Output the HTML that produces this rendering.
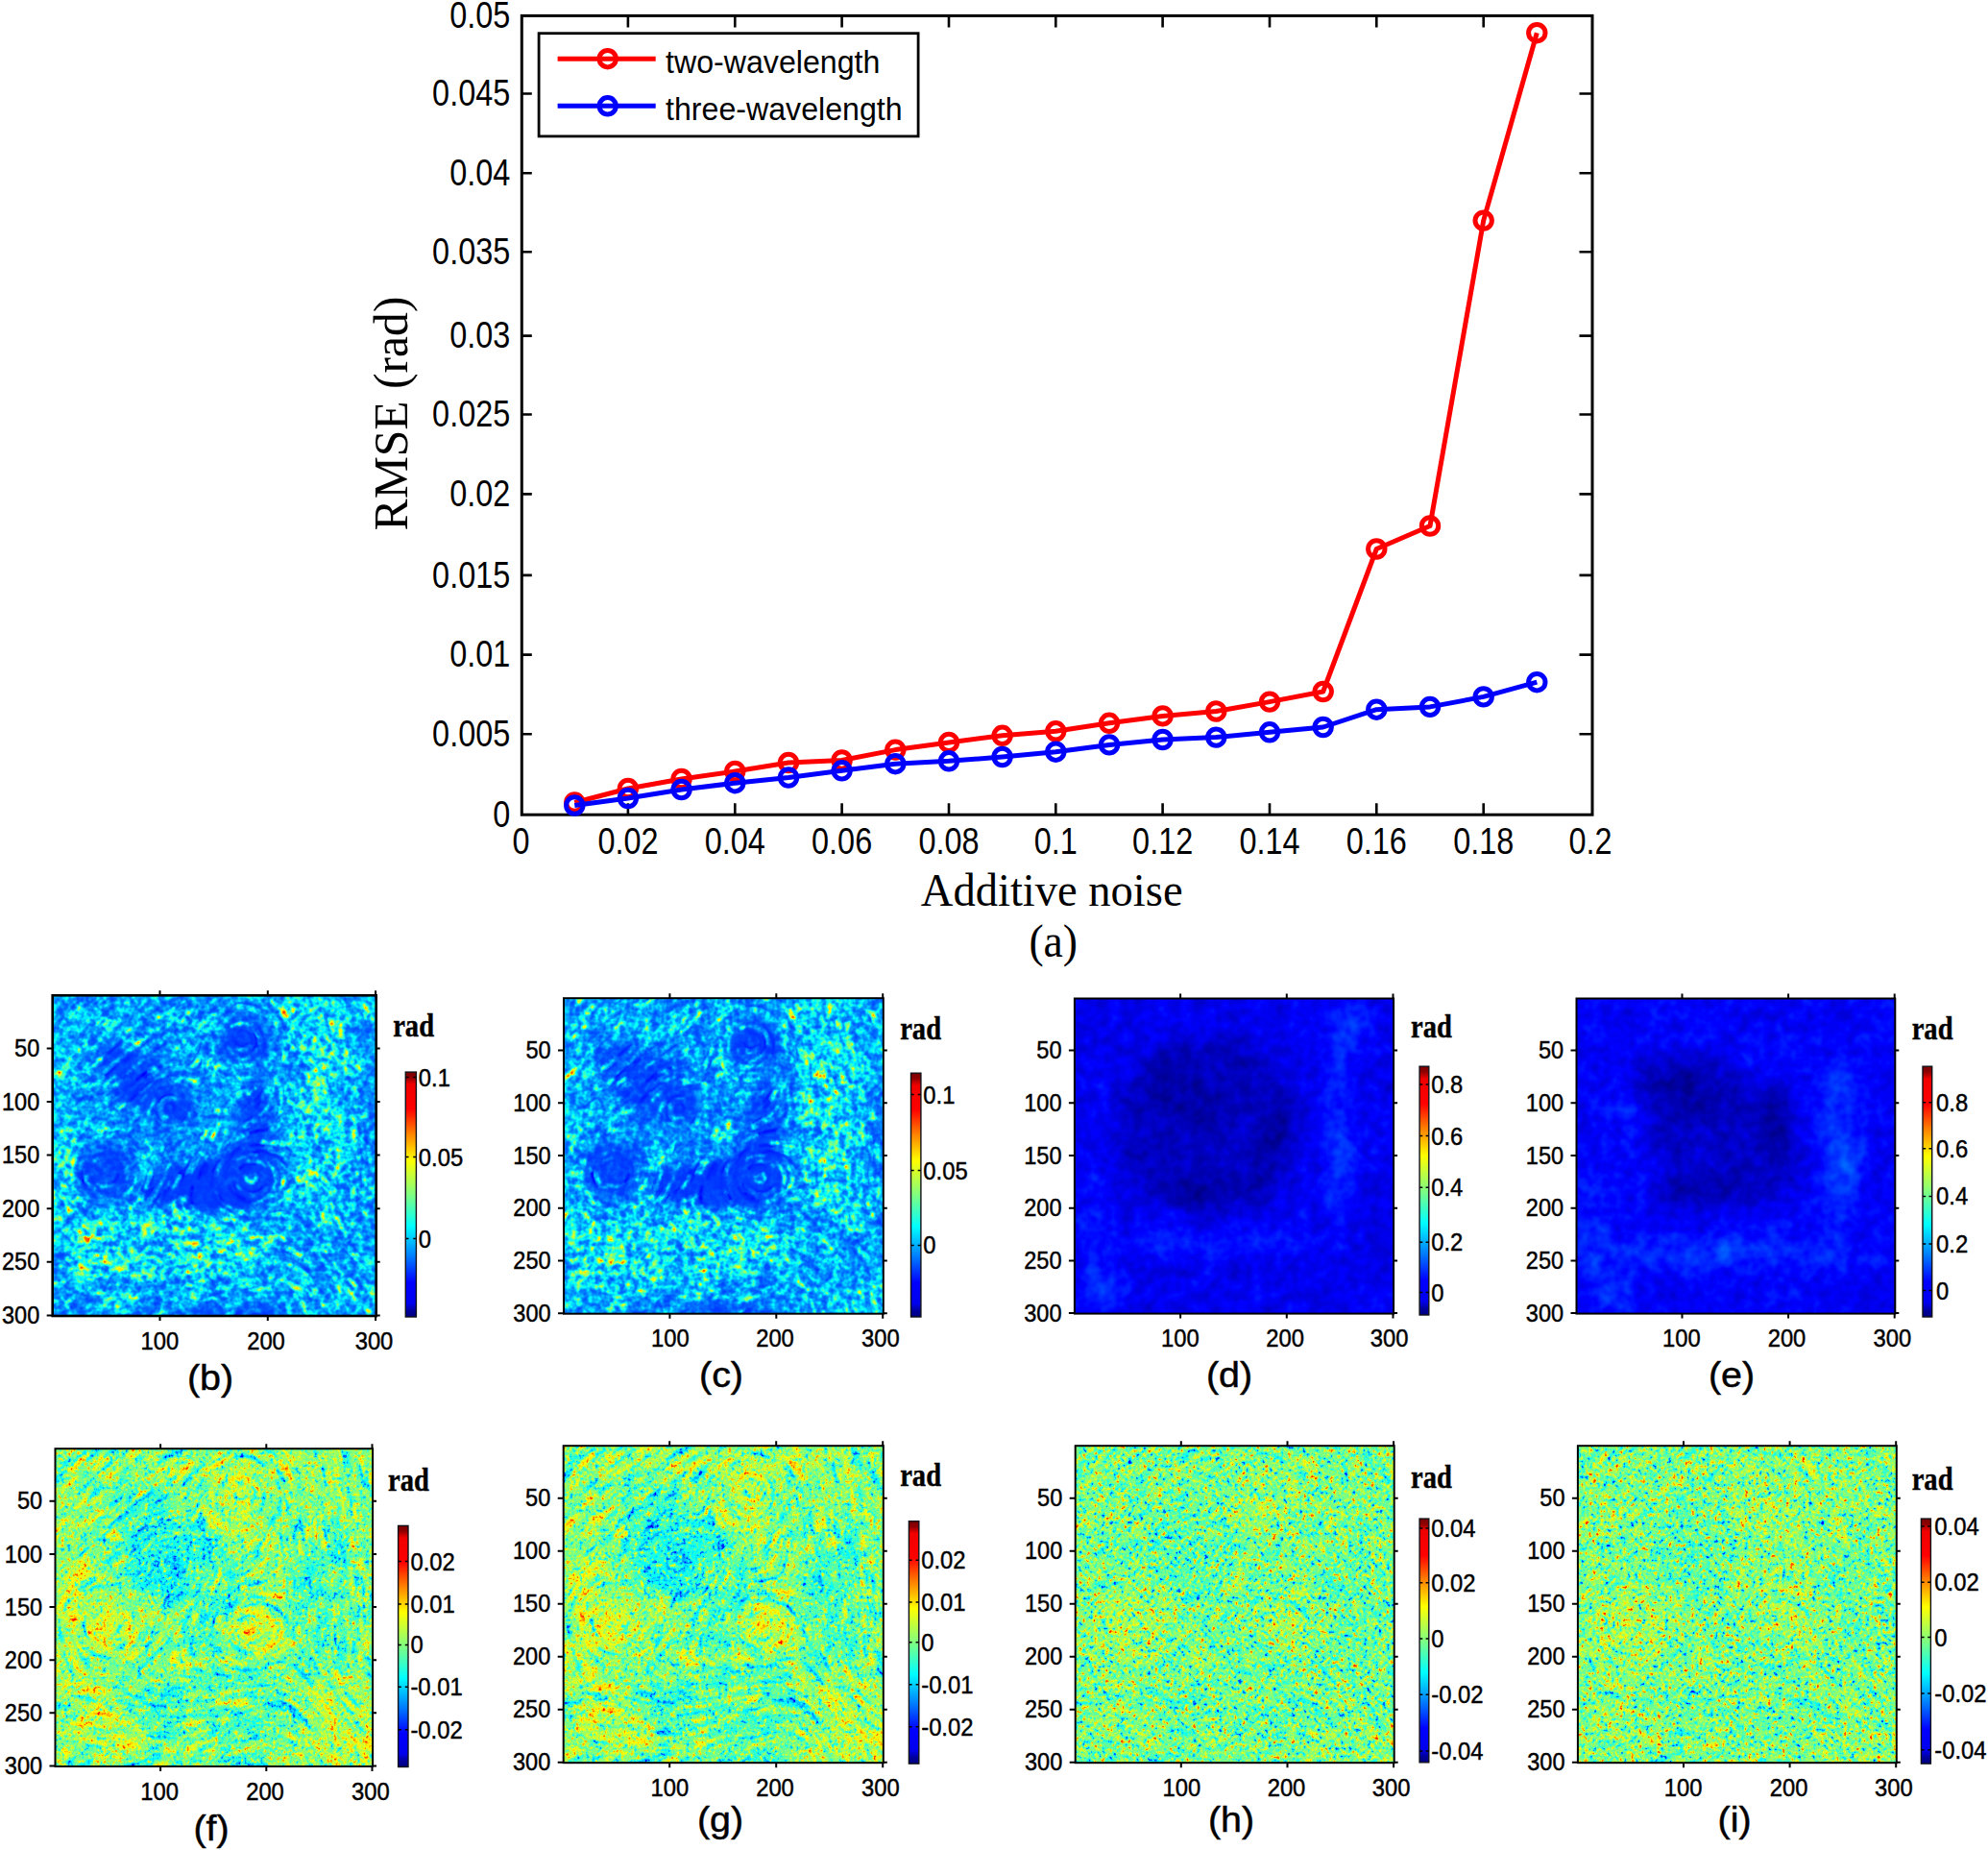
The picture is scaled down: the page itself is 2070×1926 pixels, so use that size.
<!DOCTYPE html>
<html lang="en"><head><meta charset="utf-8"><title>RMSE versus additive noise</title>
<style>
html,body{margin:0;padding:0;background:#fff}
svg{display:block}
.s{font-family:'Liberation Sans', sans-serif;fill:#000}
.t{font-family:'Liberation Serif', serif;fill:#000}
.pn text{stroke:#000;stroke-width:.45px}
</style></head><body>
<svg width="2070" height="1926" viewBox="0 0 2070 1926">
<defs>
<linearGradient id="jet" x1="0" y1="0" x2="0" y2="1">
<stop offset="0" stop-color="#7a0000"/>
<stop offset="0.022" stop-color="#8e0000"/>
<stop offset="0.05" stop-color="#f00000"/>
<stop offset="0.15" stop-color="#ff0000"/>
<stop offset="0.25" stop-color="#ff8000"/>
<stop offset="0.36" stop-color="#ffff00"/>
<stop offset="0.5" stop-color="#80ff80"/>
<stop offset="0.63" stop-color="#00ffff"/>
<stop offset="0.75" stop-color="#0080ff"/>
<stop offset="0.86" stop-color="#0000ff"/>
<stop offset="0.945" stop-color="#0000ee"/>
<stop offset="0.975" stop-color="#00009c"/>
<stop offset="1" stop-color="#00007f"/>
</linearGradient>
<filter id="fb" filterUnits="userSpaceOnUse" x="0" y="0" width="300" height="300" color-interpolation-filters="sRGB">
<feTurbulence type="fractalNoise" baseFrequency="0.17" numOctaves="2" seed="7" result="t1"/>
<feTurbulence type="fractalNoise" baseFrequency="0.05" numOctaves="2" seed="3" result="t2"/>
<feColorMatrix in="t1" type="matrix" values="1 0 0 0 0 1 0 0 0 0 1 0 0 0 0 0 0 0 0 1" result="g1"/>
<feColorMatrix in="t2" type="matrix" values="0 1 0 0 0 0 1 0 0 0 0 1 0 0 0 0 0 0 0 1" result="g2"/>
<feComposite in="g1" in2="g2" operator="arithmetic" k1="0" k2="1.0" k3="0.5" k4="-0.2500" result="N"/>
<feComponentTransfer in="N" result="NS"><feFuncR type="gamma" amplitude="1.6" exponent="2" offset="0"/><feFuncG type="gamma" amplitude="1.6" exponent="2" offset="0"/><feFuncB type="gamma" amplitude="1.6" exponent="2" offset="0"/></feComponentTransfer>
<feComposite in="SourceGraphic" in2="NS" operator="arithmetic" k1="2.0000" k2="0.2000" k3="-0.3400" k4="0.1360" result="V"/>
<feComponentTransfer in="V">
<feFuncR type="table" tableValues="0 0 0 0 0.5 1 1 1 0.5"/><feFuncG type="table" tableValues="0 0 0.5 1 1 1 0.5 0 0"/><feFuncB type="table" tableValues="0.5 1 1 1 0.5 0 0 0 0"/>
</feComponentTransfer></filter>
<filter id="bb" filterUnits="userSpaceOnUse" x="-60" y="-60" width="420" height="420" color-interpolation-filters="sRGB"><feGaussianBlur stdDeviation="5"/></filter>
<filter id="fc" filterUnits="userSpaceOnUse" x="0" y="0" width="300" height="300" color-interpolation-filters="sRGB">
<feTurbulence type="fractalNoise" baseFrequency="0.17" numOctaves="2" seed="17" result="t1"/>
<feTurbulence type="fractalNoise" baseFrequency="0.05" numOctaves="2" seed="5" result="t2"/>
<feColorMatrix in="t1" type="matrix" values="1 0 0 0 0 1 0 0 0 0 1 0 0 0 0 0 0 0 0 1" result="g1"/>
<feColorMatrix in="t2" type="matrix" values="0 1 0 0 0 0 1 0 0 0 0 1 0 0 0 0 0 0 0 1" result="g2"/>
<feComposite in="g1" in2="g2" operator="arithmetic" k1="0" k2="1.0" k3="0.5" k4="-0.2500" result="N"/>
<feComponentTransfer in="N" result="NS"><feFuncR type="gamma" amplitude="1.6" exponent="2" offset="0"/><feFuncG type="gamma" amplitude="1.6" exponent="2" offset="0"/><feFuncB type="gamma" amplitude="1.6" exponent="2" offset="0"/></feComponentTransfer>
<feComposite in="SourceGraphic" in2="NS" operator="arithmetic" k1="2.0000" k2="0.2000" k3="-0.3400" k4="0.1360" result="V"/>
<feComponentTransfer in="V">
<feFuncR type="table" tableValues="0 0 0 0 0.5 1 1 1 0.5"/><feFuncG type="table" tableValues="0 0 0.5 1 1 1 0.5 0 0"/><feFuncB type="table" tableValues="0.5 1 1 1 0.5 0 0 0 0"/>
</feComponentTransfer></filter>
<filter id="bc" filterUnits="userSpaceOnUse" x="-60" y="-60" width="420" height="420" color-interpolation-filters="sRGB"><feGaussianBlur stdDeviation="5"/></filter>
<filter id="fd" filterUnits="userSpaceOnUse" x="0" y="0" width="300" height="300" color-interpolation-filters="sRGB">
<feTurbulence type="fractalNoise" baseFrequency="0.09" numOctaves="2" seed="4" result="t1"/>
<feTurbulence type="fractalNoise" baseFrequency="0.03" numOctaves="1" seed="9" result="t2"/>
<feColorMatrix in="t1" type="matrix" values="1 0 0 0 0 1 0 0 0 0 1 0 0 0 0 0 0 0 0 1" result="g1"/>
<feColorMatrix in="t2" type="matrix" values="0 1 0 0 0 0 1 0 0 0 0 1 0 0 0 0 0 0 0 1" result="g2"/>
<feComposite in="g1" in2="g2" operator="arithmetic" k1="0" k2="1.0" k3="0.5" k4="-0.2500" result="N"/>
<feComposite in="SourceGraphic" in2="N" operator="arithmetic" k1="0.0000" k2="1.0000" k3="0.1000" k4="-0.0500" result="V"/>
<feComponentTransfer in="V">
<feFuncR type="table" tableValues="0 0 0 0 0.5 1 1 1 0.5"/><feFuncG type="table" tableValues="0 0 0.5 1 1 1 0.5 0 0"/><feFuncB type="table" tableValues="0.5 1 1 1 0.5 0 0 0 0"/>
</feComponentTransfer></filter>
<filter id="bd" filterUnits="userSpaceOnUse" x="-60" y="-60" width="420" height="420" color-interpolation-filters="sRGB"><feGaussianBlur stdDeviation="8"/></filter>
<filter id="fe" filterUnits="userSpaceOnUse" x="0" y="0" width="300" height="300" color-interpolation-filters="sRGB">
<feTurbulence type="fractalNoise" baseFrequency="0.09" numOctaves="2" seed="14" result="t1"/>
<feTurbulence type="fractalNoise" baseFrequency="0.03" numOctaves="1" seed="19" result="t2"/>
<feColorMatrix in="t1" type="matrix" values="1 0 0 0 0 1 0 0 0 0 1 0 0 0 0 0 0 0 0 1" result="g1"/>
<feColorMatrix in="t2" type="matrix" values="0 1 0 0 0 0 1 0 0 0 0 1 0 0 0 0 0 0 0 1" result="g2"/>
<feComposite in="g1" in2="g2" operator="arithmetic" k1="0" k2="1.0" k3="0.5" k4="-0.2500" result="N"/>
<feComposite in="SourceGraphic" in2="N" operator="arithmetic" k1="0.0000" k2="1.0000" k3="0.1000" k4="-0.0500" result="V"/>
<feComponentTransfer in="V">
<feFuncR type="table" tableValues="0 0 0 0 0.5 1 1 1 0.5"/><feFuncG type="table" tableValues="0 0 0.5 1 1 1 0.5 0 0"/><feFuncB type="table" tableValues="0.5 1 1 1 0.5 0 0 0 0"/>
</feComponentTransfer></filter>
<filter id="be" filterUnits="userSpaceOnUse" x="-60" y="-60" width="420" height="420" color-interpolation-filters="sRGB"><feGaussianBlur stdDeviation="8"/></filter>
<filter id="ff" filterUnits="userSpaceOnUse" x="0" y="0" width="300" height="300" color-interpolation-filters="sRGB">
<feTurbulence type="fractalNoise" baseFrequency="0.33" numOctaves="2" seed="2" result="t1"/>
<feTurbulence type="fractalNoise" baseFrequency="0.09" numOctaves="2" seed="8" result="t2"/>
<feColorMatrix in="t1" type="matrix" values="1 0 0 0 0 1 0 0 0 0 1 0 0 0 0 0 0 0 0 1" result="g1"/>
<feColorMatrix in="t2" type="matrix" values="0 1 0 0 0 0 1 0 0 0 0 1 0 0 0 0 0 0 0 1" result="g2"/>
<feComposite in="g1" in2="g2" operator="arithmetic" k1="0" k2="1.0" k3="0.5" k4="-0.2500" result="N"/>
<feComponentTransfer in="N" result="NT"><feFuncR type="table" tableValues="0 0 .05 .3 .44 .5 .56 .7 .95 1 1"/><feFuncG type="table" tableValues="0 0 .05 .3 .44 .5 .56 .7 .95 1 1"/><feFuncB type="table" tableValues="0 0 .05 .3 .44 .5 .56 .7 .95 1 1"/></feComponentTransfer>
<feComposite in="SourceGraphic" in2="NT" operator="arithmetic" k1="0.0000" k2="1.0000" k3="0.4200" k4="-0.2100" result="V"/>
<feComponentTransfer in="V">
<feFuncR type="table" tableValues="0 0 0 0 0.5 1 1 1 0.5"/><feFuncG type="table" tableValues="0 0 0.5 1 1 1 0.5 0 0"/><feFuncB type="table" tableValues="0.5 1 1 1 0.5 0 0 0 0"/>
</feComponentTransfer></filter>
<filter id="bf" filterUnits="userSpaceOnUse" x="-60" y="-60" width="420" height="420" color-interpolation-filters="sRGB"><feGaussianBlur stdDeviation="6"/></filter>
<filter id="fg" filterUnits="userSpaceOnUse" x="0" y="0" width="300" height="300" color-interpolation-filters="sRGB">
<feTurbulence type="fractalNoise" baseFrequency="0.33" numOctaves="2" seed="12" result="t1"/>
<feTurbulence type="fractalNoise" baseFrequency="0.09" numOctaves="2" seed="18" result="t2"/>
<feColorMatrix in="t1" type="matrix" values="1 0 0 0 0 1 0 0 0 0 1 0 0 0 0 0 0 0 0 1" result="g1"/>
<feColorMatrix in="t2" type="matrix" values="0 1 0 0 0 0 1 0 0 0 0 1 0 0 0 0 0 0 0 1" result="g2"/>
<feComposite in="g1" in2="g2" operator="arithmetic" k1="0" k2="1.0" k3="0.5" k4="-0.2500" result="N"/>
<feComponentTransfer in="N" result="NT"><feFuncR type="table" tableValues="0 0 .05 .3 .44 .5 .56 .7 .95 1 1"/><feFuncG type="table" tableValues="0 0 .05 .3 .44 .5 .56 .7 .95 1 1"/><feFuncB type="table" tableValues="0 0 .05 .3 .44 .5 .56 .7 .95 1 1"/></feComponentTransfer>
<feComposite in="SourceGraphic" in2="NT" operator="arithmetic" k1="0.0000" k2="1.0000" k3="0.4200" k4="-0.2100" result="V"/>
<feComponentTransfer in="V">
<feFuncR type="table" tableValues="0 0 0 0 0.5 1 1 1 0.5"/><feFuncG type="table" tableValues="0 0 0.5 1 1 1 0.5 0 0"/><feFuncB type="table" tableValues="0.5 1 1 1 0.5 0 0 0 0"/>
</feComponentTransfer></filter>
<filter id="bg" filterUnits="userSpaceOnUse" x="-60" y="-60" width="420" height="420" color-interpolation-filters="sRGB"><feGaussianBlur stdDeviation="6"/></filter>
<filter id="fh" filterUnits="userSpaceOnUse" x="0" y="0" width="300" height="300" color-interpolation-filters="sRGB">
<feTurbulence type="fractalNoise" baseFrequency="0.28" numOctaves="2" seed="21" result="t1"/>
<feTurbulence type="fractalNoise" baseFrequency="0.1" numOctaves="1" seed="28" result="t2"/>
<feColorMatrix in="t1" type="matrix" values="1 0 0 0 0 1 0 0 0 0 1 0 0 0 0 0 0 0 0 1" result="g1"/>
<feColorMatrix in="t2" type="matrix" values="0 1 0 0 0 0 1 0 0 0 0 1 0 0 0 0 0 0 0 1" result="g2"/>
<feComposite in="g1" in2="g2" operator="arithmetic" k1="0" k2="1.0" k3="0.35" k4="-0.1750" result="N"/>
<feComponentTransfer in="N" result="NT"><feFuncR type="table" tableValues="0 0 .05 .3 .44 .5 .56 .7 .95 1 1"/><feFuncG type="table" tableValues="0 0 .05 .3 .44 .5 .56 .7 .95 1 1"/><feFuncB type="table" tableValues="0 0 .05 .3 .44 .5 .56 .7 .95 1 1"/></feComponentTransfer>
<feComposite in="SourceGraphic" in2="NT" operator="arithmetic" k1="0.0000" k2="1.0000" k3="0.6000" k4="-0.3000" result="V"/>
<feComponentTransfer in="V">
<feFuncR type="table" tableValues="0 0 0 0 0.5 1 1 1 0.5"/><feFuncG type="table" tableValues="0 0 0.5 1 1 1 0.5 0 0"/><feFuncB type="table" tableValues="0.5 1 1 1 0.5 0 0 0 0"/>
</feComponentTransfer></filter>
<filter id="bh" filterUnits="userSpaceOnUse" x="-60" y="-60" width="420" height="420" color-interpolation-filters="sRGB"><feGaussianBlur stdDeviation="12"/></filter>
<filter id="fi" filterUnits="userSpaceOnUse" x="0" y="0" width="300" height="300" color-interpolation-filters="sRGB">
<feTurbulence type="fractalNoise" baseFrequency="0.28" numOctaves="2" seed="31" result="t1"/>
<feTurbulence type="fractalNoise" baseFrequency="0.1" numOctaves="1" seed="38" result="t2"/>
<feColorMatrix in="t1" type="matrix" values="1 0 0 0 0 1 0 0 0 0 1 0 0 0 0 0 0 0 0 1" result="g1"/>
<feColorMatrix in="t2" type="matrix" values="0 1 0 0 0 0 1 0 0 0 0 1 0 0 0 0 0 0 0 1" result="g2"/>
<feComposite in="g1" in2="g2" operator="arithmetic" k1="0" k2="1.0" k3="0.35" k4="-0.1750" result="N"/>
<feComponentTransfer in="N" result="NT"><feFuncR type="table" tableValues="0 0 .05 .3 .44 .5 .56 .7 .95 1 1"/><feFuncG type="table" tableValues="0 0 .05 .3 .44 .5 .56 .7 .95 1 1"/><feFuncB type="table" tableValues="0 0 .05 .3 .44 .5 .56 .7 .95 1 1"/></feComponentTransfer>
<feComposite in="SourceGraphic" in2="NT" operator="arithmetic" k1="0.0000" k2="1.0000" k3="0.6000" k4="-0.3000" result="V"/>
<feComponentTransfer in="V">
<feFuncR type="table" tableValues="0 0 0 0 0.5 1 1 1 0.5"/><feFuncG type="table" tableValues="0 0 0.5 1 1 1 0.5 0 0"/><feFuncB type="table" tableValues="0.5 1 1 1 0.5 0 0 0 0"/>
</feComponentTransfer></filter>
<filter id="bi" filterUnits="userSpaceOnUse" x="-60" y="-60" width="420" height="420" color-interpolation-filters="sRGB"><feGaussianBlur stdDeviation="12"/></filter>
<g id="stk" fill="none" stroke-linecap="round" stroke-width="2.6">
<path stroke="#fff" stroke-opacity="0.1" d="M132.9 36l1.5-2.6 1.6-2.5 1.7-2.5 1.7-2.5 1.9-2.3 2-2.2 2.1-2.1M108.5 174.3l-1.3 2.7-1.4 2.7M214.4 188.4l2.6-1.6 2.8-1.1 2.9-.3 2.7 1.4 2.1 2.1 1.8 2.4 1.5 2.6M208.6 304l.2 3-.3 3-.7 2.9M20.1 181.2l-1.2-2.8-.9-2.8-.7-2.9-.5-3-.2-3 0-3M189.4 149.8l-3-.2-3 .2-3 .6-2.8 1.1M235.2 192.4l1 2.8 1.1 2.8 1 2.8 1.1 2.8 1.2 2.8 1.2 2.8M62.9 207.6l-2.7 1.4-2.8 1.1-2.8 .9-3 .6-2.9 .2M263.6 208.5l1 2.9 1 2.8 1.2 2.7 1.3 2.8 1.4 2.6M224.7 88.2l.4 3 .5 3 .4 3M155.6 262.7l2.9-.8 2.9-.8 2.9-.7 3-.8 2.9-.7 2.9-.7M6.3 73.3l2-2.2 2.1-2.2 2.1-2.2 2.1-2.1M77.8 21.4l2.5-1.7 2.4-1.8M118.5 188.4l-.7 2.9-.5 2.9M50.6 216.1l-2.4 1.8 2.6 1.3 2.6 1.7 2.6 1.4 2.7 1.4M61.6 51l2.3-2 2.3-1.9M138.2 54.4l.5-3 .6-2.9 .6-2.9 .8-2.9 .9-2.9M273.6 147.3l.3 2.9 .3 3 .3 3 .3 3 .3 3 .3 3 .2 3M206.7 194.7l2.7-1.3 2.6-1.3 2.8-1.3 2.8-1.1M71.1 14l2.4-1.7 2.4-1.8 2.5-1.7 2.5-1.6 2.5-1.7M213.1 241.8l2.9 .7 2.9 .9 2.8 1.1 2.7 1.2 2.7 1.4 2.5 1.6M104 72l2.9-1 2.9-.7 2.9-.7 3-.6 2.9-.6 2.9-.7 2.9-.7M146.9 6.7l2.7-1.4 2.7-1.2 2.8-1.1M142.9 140.7l-1.5 2.6-1.7 2.5-1.7 2.5-1.8 2.4-1.8 2.4M182.7 187.5l3 .1 2.9-.4 2.9-.9 2.7-1.4 2.4-1.7 2.1-2.1M182.8 169.2l-.3 3 3-.2 .6-2.9-2.4-1.7M242.1 19.2l.7 2.9 .7 2.9 .6 2.9 .7 3 .6 2.9 .6 2.9 .6 3M191.2 232.6l3-.3 2.9-.2 3-.1M179.8 70.7l-2.9 .7-3 .3-3 0-2.9-.4M182.7 294.6l2.9-.3 3-.1 3 .1M272 185.7l.4 3 .4 3 .5 2.9 .6 3 .7 2.9 .7 2.9M272 165.2l.3 3 .3 3 .3 3 .3 3 .3 2.9M85.1 149.6l.9 2.9 .6 2.9 .3 3 .1 3-.1 3M173.5 86.8l-2.9 1-2.8 1-2.7 1.3-2.5 1.6M79 218.2l2.5 1.7 2.7 1.4 2.8 1M297 132.2l.4 3 .3 3 .3 3 .3 3M19 108.1l2.2-2 2.3-2 2.3-1.9 2.3-1.9 2.3-1.9M294.2 38.5l.8 2.9 .8 2.9M151.3 184.3l1 2.8 1.3 2.7 1.6 2.5 1.8 2.4 2.2 2.1 2.4 1.8M235.7 167.9l.4 3 .4 3 .5 2.9 .5 3M110.7 121.7l-3 .4-3-.2-2.9-.9-2.4-1.7M237.9 224.8l1.9 2.3 1.9 2.3 1.9 2.4M184.7 63.7l-2.7 1.3-2.8 .9-3 .6-3 .1-2.9-.4-2.9-.7-2.8-1.2M213.8 218l2.9 .7 2.8 1.1 2.7 1.4 2.5 1.5 2.5 1.8M190.1 193.6l2.9-.7 2.9-1 2.7-1.3 2.5-1.5 2.4-1.8 2.2-2.1 2-2.2M14.4 88.4l2.1-2.1 2.1-2.1 2.2-2.1M240.1 272.9l1.7 2.4 1.5 2.6 1.5 2.6 1.3 2.7 1.1 2.8M284.3 288.3l1.2 2.7 1 2.8 1 2.9 .7 2.9M47.8 71.3l2.2-2 2.2-2.1 2.2-2 2.3-2 2.2-1.9M57.8 210.4l-2.8 1.1-2.9 .7-3 .3-3-.2-2.9-.8-2.7-1.1M84.9 55.3l2.4-1.7 2.5-1.6 2.5-1.7 2.6-1.5 2.5-1.6 2.6-1.5 2.6-1.6M220.2 271.5l2.6 1.5 2.4 1.8 2.2 2.1 2 2.2 1.9 2.4M109.5 22.7l2.5-1.7 2.5-1.7 2.5-1.7M41.2 126.9l2.8-1.1 2.8-.9 2.9-.8M205.1 33.3l1 2.8 .7 2.9 .6 3 .3 3 .1 3M232 265l2.2 2 2.1 2.2 1.9 2.3 1.8 2.4 1.7 2.5M96.7 207.7l1.6 2.5 2.5 1.8 2.7 1.2 2.9 .8M33.4 14.6l2.3-1.9 2.3-2 2.3-1.9 2.3-1.9M7.8 28.7l2.2-2 2.2-2.1 2.2-2 2.2-2.1 2.2-2 2.3-2M109.9 238l2.9-.2 3-.2 3-.2 3-.3 3-.4 3-.4 2.9-.4M209.3 266.3l2.9 .6 2.9 .8 2.8 1.1 2.7 1.3 2.6 1.6M99.4 102.8l1.4-2.7 2-2.2 2.5-1.6 3-.7 3 .2 2.7 1.1M239.3 63.5l.5 3 .5 2.9 .5 3 .6 2.9M91.7 71.8l2.5-1.5 2.7-1.5M6.3 75.6l2-2.2 2.1-2.2 2.1-2.1 2.1-2.2M56.6 277.1l3 .5 2.9 .4 3 .4 3 .5 2.9 .3M102.4 142.3l-1.2 2.7-.7 2.9-.6 3-.5 3-.4 2.9M168.7 55.4l-2.5-1.8-2-2.2-1.4-2.6M95.4 216.3l2.8 1 2.9 .8 3 .5 2.9 .4 3 .2 3 .2 3 0M211.4 205.6l3 .1 2.9 .5 2.9 1M131.7 51.9l1.3-2.7 1.1-2.8 1.1-2.8M75.3 107.8l1.9-2.3 1.8-2.5M157.4 78.4l-2.7-1.4-2.4-1.8-2-2.2M217.1 223.5l2.8 1.1 2.6 1.4 2.6 1.5 2.5 1.7 2.4 1.8 2.3 1.9M4.1 32.5l2.2-2.1 2.2-2.1 2.1-2 2.2-2.1M270.6 285.3l1 2.8 1 2.9 .8 2.8 .7 3 .6 2.9M254.5 284.7l1 2.8 .9 2.9 .8 2.9 .7 2.9 .6 2.9 .5 3M180 228.1l3-.4 2.9-.3 3-.3 3-.3 3-.3 3-.1 3-.2M55 124.2l2.9-.5 3-.5 3-.5M214.3 173l.2-3-.3-3-.8-2.9-1.2-2.7-1.6-2.6M68.3 238.3l2.9 .7 3 .6 2.9 .6 3 .6 2.9 .5 3 .4M215 148.9l-2.7-1.3-2.7-1.3-2.7-1.3-2.8-1.1-2.8-1-2.9-.9M109 196.7l-.4 3 .5 3 1.7 2.4 2.4 1.7 2.8 1.2 2.9 .9M142.5 286l2.9-.9 2.8-.9 2.9-.9 2.9-.9 2.8-.9 2.9-.9 2.9-.9M122.6 19.7l2.3-1.9 2.3-1.9 2.4-1.9M94.5 34.3l2.5-1.6 2.6-1.6 2.5-1.6 2.5-1.6 2.5-1.7M57.8 190.4l-2.9 .7-3 .4M14.5 1.7l2.3-1.9 2.2-2 2.3-2 2.3-1.9M250.3 141.9l.3 3 .2 2.9 .3 3 .3 3 .2 3 .3 3M161.5 68.4l-2.5-1.7-2.2-2.1-1.9-2.3-1.6-2.5M212.4 111.6l-.9 2.9-1.2 2.7-1.9 2.4M33.7 178.3l-1.7-2.5-1.3-2.7-.9-2.8-.5-3 0-3M296.6 276.5l2.2 2 2.3 2 2.3 1.9 2.3 2 2.3 1.9 2.3 1.9 2.3 2M213.9 115.4l-1.1 2.8-1.5 2.6-2.2 2.1-2.6 1.4-2.8 1-3 .6M130.2 242.7l2.9-.5 3-.5 2.9-.6 3-.6 2.9-.6M149.1 56.2l-.6-3-.3-3 0-2.9 .2-3M131.8 -2.1l2.8-1.2 2.8-1.1 2.8-1.1M131.9 213.7l3 .2 3 .2 3 .3M214.9 284.9l2.3 2 2.1 2.2 1.7 2.5M298.4 170.8l.2 3 .2 3 .3 3M182.5 88.2l-2.5 1.7-2.6 1.6-2.4 1.7-2.4 1.8-2.2 2.1-1.9 2.3M42 241.2l3 .5 2.9 .5 3 .6M82.5 90.9l2-2.2 2.2-2.1 2.2-2 2.3-1.8M154 106.7l-.5 3-.6 2.9-.7 2.9-.9 2.9M.9 59.7l2.1-2.1 2.1-2.2 2.1-2.1 2.1-2.1 2.2-2.1M237.6 169.5l.4 3 .4 2.9 .5 3 .5 3 .6 2.9M137.4 72.2l1.9-2.3 .9-2.9 .4-3 .2-3 .1-3M230.9 85.9l.5 3 .5 3 .5 2.9 .4 3 .5 2.9 .4 3M49.3 97.8l2.4-1.8 2.4-1.9 2.3-1.9M101.2 187.8l-1.6 2.6-1.5 2.5-1.5 2.6-1.5 2.6-1.4 2.7M284.9 55.6l.6 2.9 .6 2.9 .7 3 .6 2.9 .6 2.9 .7 3 .6 2.9M158.4 200.1l2.5 1.6 2.7 1.4 2.7 1.2 2.9 .9 2.9 .8M151.9 103.4l-.1 3-.2 3-.5 3-.6 2.9-.9 2.9-1 2.8M5.8 5.2l2.2-2 2.2-2 2.2-2 2.3-2M90 76.8l2.5-1.6 2.6-1.6 2.7-1.3M170.5 81.9l-3 .3-3 0-3-.1-3-.3M163.3 274.4l2.9-.8 2.9-.8 2.9-.8M19.1 194l-1.7-2.5-1.4-2.6-1.4-2.7-1.2-2.7-1.1-2.8-.8-2.9M49.2 234.5l2.9 .6 2.9 .7 3 .7 2.9 .7 2.9 .7 2.9 .6 2.9 .7M223.2 133.2l-1.2 2.7-1.8 2.5-2.4 1.6-3 .6-3-.2-2.9-.6M4.7 138.2l1.4-2.7 1.5-2.5 1.7-2.5 1.8-2.4 1.8-2.4 2-2.2M164.2 98.8l-1.3 2.7-1 2.8-1 2.8-1 2.9-1 2.8M170.9 11.2l3-.2 3 0 3 .3 2.9 .6 2.9 .9M141.8 255.1l3-.7 2.9-.7M73.8 216.7l2 2.3 2.5 1.7 2.6 1.4M91.7 223.4l3 .6 2.9 .5M113.7 233.5l3-.2 3-.3 3-.3 3-.3 2.9-.4 3-.5M19.5 88.2l2.2-2.1 2.2-2.1 2.1-2.1 2.2-2 2.2-2.1 2.2-2M262.1 -1.9l.7 3 .6 2.9M136.7 115.9l-.8 2.9-1 2.8-1.3 2.8-1.4 2.6-1.7 2.5-1.8 2.4M41.3 62.7l2.3-2 2.2-2 2.2-2M145 87.9l1.4 2.7 1.1 2.8 .8 2.9 .6 2.9 .4 3 .1 3M282 137.5l.3 2.9 .3 3 .3 3 .3 3 .3 3M278.9 123.5l.4 2.9 .3 3 .4 3 .4 3 .3 2.9M100.8 253.3l3 .1 3 0 3-.1 3-.2 3-.2 3-.3 2.9-.4M290.4 288.6l1.4 2.7 1.3 2.7 1 2.8M5.6 145.9l1.2-2.7 1.3-2.7 1.4-2.7 1.6-2.5M42.6 261.8l3 .5 2.9 .5 3 .5M26.2 237.4l3 .1 3 .1 3 .2 3 .3 3 .4 2.9 .5M48.3 187.3l-3-.4-2.9-.8-2.8-1.2-2.5-1.6M256.5 256.1l1.8 2.4 1.8 2.4 1.8 2.4 1.7 2.5 1.6 2.5M155.2 120.1l-1.3 2.7-1.4 2.7-1.4 2.6-1.4 2.7-1.4 2.6-1.4 2.7M171.9 178.7l1.8 2.4 2.3 1.9 2.6 1.4M276.4 189.1l.5 2.9 .5 3 .6 2.9 .7 2.9 .8 2.9M105.8 164.4l-1 2.8-1.1 2.8-1.1 2.8-1.2 2.7-1.3 2.7-1.3 2.7M280.6 288.3l1 2.7 1 2.9 .9 2.9 .7 2.9 .5 2.9 .5 3 .3 3M202.7 225.6l3 0 3 .3 3 .4 2.9 .6M24.9 45.3l2.3-2 2.2-2M223.1 127.3l-.7 2.9-1.2 2.8M99.5 136.9l-1.5 2.6-.6 2.9-.3 3-.2 3-.1 3-.2 3M294.5 250.7l2.5 1.6 2.6 1.5 2.7 1.4 2.7 1.3M144.9 69.8l-.5-2.9-.4-3-.3-3M214.9 51.6l.1 3 0 3-.1 3M185.7 30.6l2.1 2.2 1.7 2.5 1.1 2.8 .7 2.9 .1 3M131.4 140.8l-1.9 2.3-2 2.2-2 2.3-2 2.3-1.9 2.3M122.9 211.1l3 .4 2.9 .4M102.3 83.8l2.9-1 2.9-.6 3-.4M104.1 66l2.8-1 2.8-1 2.9-1 2.8-1 2.8-1.1 2.7-1.3M110.6 216.9l3 .2 3 .2 3 0 3 0 3 0 3-.1M14.5 199.9l-1.3-2.7-1.3-2.7-1.3-2.7M20.1 254.4l3 0 3 .2 3 .2 3 .3 3 .3 3 .4M29.8 246.2l3 .3 3 .3 3 .4M143.3 32.6l1.5-2.6 1.7-2.5 1.9-2.3 2-2.3 2.2-2M277.9 180.2l.3 3 .4 3M284.3 41.5l.7 2.9 .7 3 .6 2.9 .7 2.9M189.4 197.6l3-.5 2.9-.7 2.8-1M131.6 97.5l1.3 2.7 .9 2.9 .6 2.9 .2 3-.2 3-.5 3M173.7 90.6l-2.6 1.5-2.4 1.8-2.2 2.1-1.7 2.4-1.4 2.7M11.5 256.2l3-.1 3 0M186.7 249l3-.5 2.9-.3 3-.3 3-.2 3-.1M184.6 244l3-.4 3-.4 2.9-.4 3-.2 3-.2M60.3 219l2.2 2.1 2.5 1.6 2.6 1.4M275.7 76.5l.5 2.9 .6 3 .5 2.9 .5 3 .5 3 .5 2.9M79 40.4l2.4-1.8 2.4-1.8 2.5-1.7 2.4-1.7 2.5-1.7M281.7 183.5l.4 3 .4 3 .5 2.9M287.1 181.2l.4 3 .4 3 .4 3 .6 2.9M49.3 255l2.9 .6 3 .6 2.9 .5 3 .6 2.9 .6 3 .5M143.6 242.9l2.9-.7 3-.6 2.9-.7 2.9-.6 3-.7M225.5 280.1l1.9 2.2 1.8 2.5 1.5 2.6 1.3 2.7M89.3 3l2.6-1.4 2.7-1.4 2.7-1.3"/>
<path stroke="#fff" stroke-opacity="0.18" d="M197.1 159.3l-2.3-1.9-2.6-1.5-2.8-1-3-.4-3 .1-2.9 .6M264.2 113l.4 3 .4 3 .4 3M59.9 61.8l2.3-2 2.3-1.9 2.2-2 2.3-1.9 2.3-1.9 2.4-1.9 2.3-1.9M189 51.3l-1.7 2.5-2.2 2.1-2.4 1.7-2.8 1.2-2.9 .7-3 .1-3-.5M5.1 148l1.1-2.8 1.2-2.8 1.3-2.6 1.5-2.6 1.7-2.6 1.7-2.4M86.4 135.5l2 2.2 1.4 2.6 1.1 2.9 .7 2.9 .6 2.9 .3 3 .2 3M93.5 80l2.6-1.6 2.6-1.4 2.8-1.2 2.8-1M29.9 249.8l3 .3 3 .4 2.9 .4 3 .4 3 .5M217 291.6l1.6 2.6 1.2 2.7 .9 2.9 .7 2.9M102.1 285.6l3-.2 3-.3 3-.4 3-.4M55.6 176.8l-2.7 1.3-2.9 .7-3 0-2.9-.7-2.7-1.3M300.8 298.7l.9 2.9 .7 2.9 .4 3M100.2 175.1l-1.2 2.7-1.4 2.7-1.4 2.6-1.5 2.6-1.6 2.6-1.7 2.5-1.7 2.4M266.7 169.9l.3 3 .3 3 .3 3 .4 3M237.4 71.2l.5 2.9 .5 3 .5 2.9M103.4 206.3l2.1 2.2 2.7 1.4 2.8 1 2.9 .7 3 .5 3 .4M176.6 246.7l3-.6 2.9-.6M212.4 10.2l1.7 2.4 1.6 2.6 1.5 2.6 1.3 2.7 1.2 2.7 1.1 2.8M185.5 250.5l3-.4 2.9-.4 3-.3M303.2 213.8l2.2 2 2.4 1.8 2.5 1.6 2.6 1.5M111 12.3l2.6-1.5 2.6-1.5 2.7-1.4 2.6-1.5 2.6-1.4M165.5 63.4l-2.6-1.6-2.3-1.9M73.8 227.7l2.9 .9 2.8 .8 3 .7 2.9 .7 2.9 .5M111.1 114.6l-2.9 .4-3-.6-2.5-1.6-1.7-2.4-.9-2.9 .1-3M1.7 136.6l1.4-2.7 1.5-2.6 1.6-2.5 1.7-2.5 1.8-2.4 2-2.3M277.6 214.1l1.4 2.7 1.4 2.6 1.7 2.5 1.7 2.4 1.9 2.4M140.1 235.5l2.9-.5 3-.6 2.9-.6M170.2 286.2l2.9-.8 2.9-.7 2.9-.7 3-.6 2.9-.5 3-.4M10.9 6.7l2.2-2.1 2.3-2 2.2-1.9 2.3-2 2.3-2 2.3-1.9 2.3-1.9M210.7 193.6l2.7-1.3 2.8-1 2.9-.7M126.2 233.1l3-.4 2.9-.4 3-.5 3-.5 2.9-.5M271.4 304.9l.3 3 .3 3 .2 3 .1 3 .1 3M92 35.2l2.5-1.6 2.5-1.6 2.5-1.7M-5 83.6l1.9-2.3 1.8-2.4 2-2.3 1.9-2.2 2-2.3 2.1-2.2 2-2.2M78 246.7l2.9 .5 3 .5 3 .4 3 .3M167.7 3.5l3-.3 3-.1M.2 158.5l.4-3 .6-2.9 .7-2.9M97.4 -1.1l2.7-1.3 2.8-1.2 2.8-1.1 2.8-1.1 2.8-1.1M220.3 24.5l1.1 2.8 1 2.9 .8 2.9 .8 2.8 .8 3M241.4 31.6l.6 3 .7 2.9 .6 2.9 .6 3M186.6 119.3l-2.7 1.2-2.7 1.3-2.7 1.3M270.7 208.4l1 2.8 1.1 2.8 1.3 2.7 1.3 2.7 1.5 2.6 1.7 2.5 1.7 2.4M37.7 156l2.2-2 2.6-1.6 2.8-1.1M258.6 195l.6 2.9 .6 3 .8 2.9 .8 2.9 .9 2.8 1 2.9M227.8 55.6l.4 2.9 .5 3 .4 3 .4 3M156 10.6l2.7-1.2 2.8-1 2.9-.8 2.9-.7M260.2 71l.5 2.9 .5 3 .5 2.9 .5 3M264.1 19.3l.6 2.9 .6 3 .6 2.9 .6 3 .6 2.9 .6 3 .6 2.9M278.8 112.3l.4 3 .4 3 .4 3 .4 2.9 .4 3 .4 3 .3 3M292.8 180.7l.4 2.9 .4 3 .4 3M276 164.7l.3 3 .2 3 .3 3 .3 3M12.3 -.3l2.3-2 2.2-1.9 2.3-2M8.1 225l2.8-1.1 2.7-1.3 2.6-1.5M189 115.5l-2.7 1.4-2.6 1.4-2.7 1.4-2.6 1.4-2.6 1.6M212.6 178.5l1.2-2.7 .7-3 .2-3-.3-2.9-.9-2.9-1.2-2.8M274.6 139.3l.3 3 .4 3 .3 3M130.7 155.6l-1.7 2.5-1.6 2.5-1.6 2.6-1.5 2.6M78 148.1l1.5 2.6 1.2 2.7 .8 2.9 .5 3 .2 3M7.1 268.4l3-.3 3-.1 3-.1 3-.1 3 .1 3 .1 3 .1M36.2 125.2l2.7-1.3 2.7-1.2 2.8-1.1 2.8-1.1M215.6 185.5l2.4-1.8 2.6-1.5 3-.3 2.5 1.6 1.9 2.3 1.7 2.6M-4.4 296.1l2.5-1.7 2.6-1.5 2.8-1.2 2.7-1.1 2.9-1 2.9-.8M196.8 114.3l-2.6 1.6-2.7 1.3-2.7 1.2-2.7 1.2-2.8 1.2M195.1 280.2l3 0 3 .2 3 .5M40.7 12.6l2.3-1.9 2.3-1.9M182.3 276.6l3-.6 2.9-.4 3-.4 3-.2 3-.2 3 0M1.3 269.2l3-.4 2.9-.3 3-.3 3-.2 3-.1 3 0 3 .1M263.8 9.3l.6 2.9 .6 3 .6 2.9 .6 3 .6 2.9 .6 2.9M116 260.6l2.9-.3 3-.3 3-.5 3-.4 2.9-.5 3-.6 2.9-.6M6 248.7l3-.3 3-.2 3-.1 3-.1 3 0M254.9 232.8l1.7 2.5 1.7 2.4 1.8 2.4 1.8 2.4M224.8 281.5l1.9 2.4 1.7 2.4 1.5 2.7 1.2 2.7M62.5 255.9l2.9 .6 3 .5 2.9 .6M278.2 51l.6 2.9 .5 3 .6 2.9 .6 3 .6 2.9M214.4 214.9l2.9 .8 2.8 1.2 2.6 1.4 2.5 1.7 2.4 1.8M286.3 132.3l.3 3 .4 3 .3 3 .3 3 .3 2.9M156.1 229.3l3-.4 3-.5 3-.4 2.9-.3M93.8 149.9l.2 3 0 3M165 73.5l-2.8-.9-2.7-1.4-2.5-1.7-2.1-2.1-1.9-2.3-1.6-2.6-1.2-2.7M240.3 68.6l.5 2.9 .5 3 .5 2.9 .5 3M26.3 88.2l2.3-2 2.2-2.1 2.2-2M67.1 155.4l1.3 2.7 .9 2.9 .4 3-.1 3-.5 2.9-.9 2.9M147.5 238l2.9-.6 3-.6 2.9-.6M110.6 77.8l3-.3 3-.1 3 0 2.9 .3M218.9 127.7l-1.6 2.5-2.3 2-2.8 1.1M255.1 91.4l.4 2.9 .5 3 .5 2.9 .4 3M299.7 93.8l.7 2.9 .6 2.9 .5 3 .6 2.9 .6 3M240 177.4l.5 3 .5 2.9 .6 3 .6 2.9 .7 2.9 .7 2.9 .8 2.9M295.3 170.4l.2 3 .3 3 .2 3 .3 3 .4 3M300.8 298.3l.9 2.8 .7 2.9 .5 3M207 79.7l-.7 2.9-.7 2.9-.7 2.9-.7 3-.7 2.9M-.4 1l2.2-2.1 2.2-2 2.2-2 2.3-2 2.2-2 2.3-2M161.4 209.1l2.9 .7 3 .6 2.9 .5M288.7 165.3l.3 3 .2 3 .2 3 .3 2.9 .3 3 .3 3 .4 3M12.3 131.2l1.9-2.3 2-2.3 2-2.1 2.2-2.1 2.2-2 2.4-1.9M199.3 263.6l3 0 3 .1 3 .3 2.9 .5 2.9 .7 2.9 1M288 9.1l.8 2.9 .8 2.9 .8 2.9 .8 2.8M127.8 109.4l-.4 2.9-.9 2.9-1.2 2.7-1.6 2.6-2 2.3-2.2 2-2.4 1.8M26.2 72.5l2.2-2 2.2-2.1 2.2-2M35 296.7l2.9-.8 2.9-.6 3-.5 2.9-.4M70.5 71.5l2.3-1.9 2.2-2 2.4-1.9 2.3-1.8 2.4-1.8 2.4-1.8M178.1 -4.6l2.9 .4 3 .5 2.9 .7 2.9 .9M217.4 136l-2.8 1.1-3 .3-3-.2-3-.5M20.3 75.7l2.2-2.1 2.1-2.1 2.2-2.1 2.2-2.1 2.2-2 2.2-2M90.4 71.1l2.5-1.5 2.7-1.5M267.4 -1.1l.6 2.9 .6 3 .7 2.9 .6 2.9M266.2 303.7l.4 2.9 .3 3 .2 3 .2 3M89.7 149.2l.6 2.9 .3 3 .2 3M212.8 228.3l2.9 .7 2.9 1 2.7 1.1 2.7 1.4M155.3 116.2l-1.1 2.8-1.2 2.7-1.3 2.7-1.3 2.7-1.4 2.7-1.4 2.6M246.2 81.2l.5 2.9 .5 3 .4 2.9 .5 3 .5 3 .5 2.9M287.4 270l2.1 2.2 2.1 2.1 2.2 2.1 2.1 2.1 2.2 2.1 2.1 2.1 2.1 2.1M172.3 220.8l3-.1 3-.2 3-.2 3-.2 3-.2M239.9 151.1l.1 3 .1 3 .2 3 .2 2.9 .3 3M64.9 260.5l3 .5 2.9 .6 3 .5 3 .4 2.9 .5M67.6 53.5l2.3-1.9 2.3-1.9 2.4-1.9 2.3-1.9 2.4-1.8 2.4-1.8M253.5 120.5l.4 2.9 .4 3M39.1 180.8l-2.3-1.9-2-2.2-1.6-2.5-1.2-2.8-.7-2.9M87.6 215.4l2.5 1.7 2.7 1.2 2.8 1 3 .7 2.9 .5 3 .4M43.5 127.7l2.8-.9 2.9-.7 3-.7M241.1 287.1l1.1 2.8 .8 2.9 .8 2.9 .6 2.9 .5 3 .5 3M145.4 147.6l-1.8 2.5-1.8 2.3M256.6 244.9l1.9 2.4 1.8 2.3 1.8 2.4 1.9 2.4 1.8 2.3 1.9 2.4 1.8 2.4M226.7 254.8l2.5 1.6 2.4 1.8 2.4 1.9 2.2 2 2.1 2.1 2 2.2M25.2 163.7l.4-3 .8-2.9 1.2-2.8M235.4 175.3l.6 2.9 .6 3 .7 2.9 .7 2.9 .8 2.9 .8 2.9M295.1 137.2l.3 3 .3 3 .3 3 .2 3 .3 3 .2 3M159.6 300.3l2.5-1.7 2.6-1.4 2.8-1.2M36.2 20.5l2.3-2 2.3-2 2.3-1.9 2.3-1.9 2.3-1.9 2.3-1.9 2.3-1.9M275.3 266.2l1.9 2.4 1.8 2.4 1.8 2.4 1.8 2.4 1.7 2.4M293.2 261.2l2.4 1.7 2.5 1.7 2.6 1.6 2.6 1.5 2.6 1.4M212 100.3l-.1 3-.3 3-.4 2.9-.7 3-1.1 2.7M161.5 125.8l-1.9 2.3-1.8 2.5-1.7 2.4M52.3 213.2l-3 .5-2.9-.1-3-.8-2.7-1.2M38.4 147.8l2.7-1.4 2.7-1.1 3-.7M202.8 20.2l1.8 2.3 1.7 2.5 1.5 2.7 1.3 2.7M251.6 268.6l1.6 2.5 1.6 2.6 1.4 2.6 1.4 2.7 1.2 2.7M151.4 35.9l1.2-2.7 1.6-2.6 1.8-2.3 2.1-2.2 2.3-1.9M7.1 253.3l3-.2 3-.2 3 0 3 0 3 0M202.5 206.4l3-.4 3-.4 3-.2 3 .1 2.9 .5M1.8 76.7l2-2.3 2-2.2 2-2.2 2.1-2.1 2.1-2.2M57.4 274l3 .5 3 .5 2.9 .5 3 .4 3 .4 2.9 .4M245.5 215.7l1.4 2.7 1.4 2.6 1.5 2.6 1.6 2.6M185.9 194.1l3-.3 2.9-.6 2.9-.8 2.8-1.2 2.6-1.4 2.5-1.7 2.3-2M237.5 175.2l.5 3 .6 2.9 .6 3 .7 2.9 .6 2.9 .8 2.9M5.7 128.4l1.7-2.5 1.9-2.4 1.9-2.3M83 98.1l1.8-2.5 1.9-2.3 2-2.2 2.1-2.2M112.5 50.4l2.5-1.6 2.4-1.8 2.3-2 2.1-2.1M262.8 154.4l.3 2.9 .3 3 .3 3 .2 3 .3 3M111 193l-.9 2.8-.5 3 .4 3M271.5 203.6l.9 2.9 .9 2.9 1.1 2.8 1.2 2.7 1.3 2.7M29.7 129.3l2.5-1.7 2.6-1.5 2.6-1.4 2.8-1.3 2.7-1.2 2.8-1M108.6 157l-1.2 2.8-1.1 2.8M74.9 193.1l-2.2 2-2.5 1.8-2.5 1.6-2.6 1.4-2.7 1.3-2.9 1M161.5 290.1l2.9-1 2.8-.9 2.9-.9 2.9-.8 2.9-.8M162.7 76.6l-2.9-1-2.6-1.3-2.5-1.8-2.1-2.1-1.8-2.4-1.4-2.7M241.8 238.9l2.1 2.2 2 2.2 1.9 2.3 2 2.3 1.9 2.3M115.6 -1.3l2.8-1.1 2.8-1.2 2.8-1.1 2.8-1 2.8-1.1M144.7 12.8l2.5-1.7 2.5-1.6 2.7-1.4 2.7-1.3M291.7 288.4l1.4 2.6 1.3 2.7 1.1 2.8M3.4 295.6l2.6-1.5 2.8-1.2 2.8-1.1 2.8-.9M49.6 28l2.3-1.9 2.2-2 2.4-1.9 2.3-1.9 2.3-1.9 2.3-1.8M184.7 148l-2.9 .5-2.9 .9-2.7 1.2-2.6 1.5-2.4 1.9M231.6 245.4l2.4 1.8 2.3 2 2.3 2 2.1 2.1M226.8 166.9l.3 3 .8 2.9 1 2.8 1.1 2.8 1.1 2.8 1.1 2.8M193.8 55l-1.5 2.6-1.9 2.3-2.1 2.1-2.4 1.8-2.6 1.5-2.8 1.1M242.2 59.5l.5 3 .6 2.9 .5 3 .5 2.9 .5 3 .5 2.9M254.8 232.9l1.7 2.5 1.8 2.4 1.8 2.5 1.8 2.4 1.8 2.3M303.2 34.6l1.1 2.8 1 2.8 1 2.8 1.1 2.8 1.1 2.8 1 2.8M154.3 49.3l-.3-3 0-3 .5-3 .8-2.9 1.2-2.7 1.5-2.6M258.7 188.2l.4 3 .5 2.9 .6 3M206.1 249.3l3 .2 2.9 .5 3 .6 2.9 .8 2.8 1M144.6 75.3l-.1-3-.3-3-.4-3-.3-3-.3-3-.2-3M-3.6 90.3l1.8-2.3 1.9-2.4 1.9-2.3 2-2.3M68.6 35.5l2.4-1.8 2.3-1.9 2.4-1.8 2.4-1.9M39.3 11.5l2.3-1.9 2.3-1.9 2.3-1.9 2.3-1.9 2.4-1.9M243.6 238.7l1.9 2.3 2 2.2 1.9 2.3 1.9 2.3 1.9 2.4 1.9 2.3M179 228.1l3-.3 3-.4 3-.3 2.9-.3 3-.3M22.4 264.1l3 .2 3 .2 3 .2 3 .3 3 .4 3 .4M21.6 252.5l3 .1 3 .2 2.9 .2M294.2 258.7l2.5 1.7 2.5 1.5 2.6 1.5 2.7 1.4M46 283.7l3 .3 3 .3 3 .3M126.8 29l1.9-2.2 2-2.3 2-2.2M147.6 55.6l-.4-2.9-.2-3 0-3 .4-3 .5-3M123.4 187.5l-.4 3 0 3M178.2 -.8l3 .4 2.9 .5 2.9 .8 2.9 .9 2.8 1.2M36.4 51l2.2-2 2.3-2 2.2-2 2.2-2M22 274l3 0 3 .1 3 .2 3 .2 3 .3 3 .3M211.9 227l2.9 .6 2.9 .9 2.8 1.1 2.7 1.3M146.9 58.2l-.5-2.9-.3-3-.1-3 .2-3 .4-3 .6-2.9"/>
<path stroke="#fff" stroke-opacity="0.28" d="M294.6 272.1l2.3 1.9 2.4 1.9 2.3 1.8 2.4 1.8M123.6 285.1l2.9-.7 3-.7 2.9-.7M214.4 15.5l1.5 2.6 1.4 2.6 1.2 2.7 1.2 2.8M229.3 283.2l1.6 2.5 1.4 2.7 1.2 2.7 .9 2.9 .8 2.9 .7 2.9 .5 3M28.5 227l3-.4 3-.3 2.9-.2 3 .1 3 .2 3 .4M6.4 288.2l2.8-.8 3-.7 2.9-.5M154 107.4l-.5 3-.6 2.9-.8 2.9M281.5 164l.3 3 .2 3 .3 3 .3 2.9M175 -1.4l3 .2 3 .3 2.9 .6 2.9 .7 2.9 .9M264.7 208.4l.9 2.8 1.1 2.8 1.2 2.8 1.3 2.7 1.4 2.6 1.5 2.6 1.6 2.6M155.6 159.1l-1.3 2.7-1.1 2.8-.9 2.9M17.3 58.4l2.2-2.1 2.2-2.1 2.1-2 2.2-2.1 2.2-2 2.3-2M124.9 247l3-.4 2.9-.5 3-.5 2.9-.6 3-.6M291.7 295.1l1 2.8 .8 2.9 .6 3 .4 2.9 .3 3M249.6 200.1l.8 2.9 .8 2.9 1 2.8 1 2.9M293 278.3l2 2.2 2 2.2 2 2.2 2 2.3 1.9 2.3M93.9 300.1l2.8-1.2 2.8-1.1 2.8-.9 2.9-.9M200 103l-1.4 2.7-1.7 2.5-2.1 2.1-2.3 1.9M166.1 29.2l2.7-1.5 2.8-1 3-.4 3 .1 2.9 .6 2.8 1.2M203.3 5.3l2.3 2 2.1 2.1 2 2.2 1.8 2.4 1.7 2.5 1.5 2.6M286.5 195.2l.8 2.9 .8 2.9 1 2.8 1.2 2.8M154.9 232l3-.5 2.9-.5 3-.5 2.9-.4 3-.4 3-.5M228.6 82.2l.5 3 .4 3 .5 2.9 .5 3 .4 3 .5 2.9M59.1 83.8l2.2-2 2.2-2.1M67.7 6.7l2.4-1.7 2.5-1.8 2.4-1.6M269.9 60.9l.5 3 .6 2.9 .5 3 .6 2.9M-4.5 203.4l.1-3-.2-3-.4-2.9M108.3 247.4l3-.1 2.9-.2 3-.2M111.3 31.4l2.4-1.8 2.4-1.8 2.3-1.9 2.3-2 2.2-1.9M36.2 -4l2.3-1.9 2.4-1.8 2.3-1.8 2.4-1.8M215.8 -.1l1.7 2.5 1.5 2.6 1.4 2.6 1.4 2.7 1.2 2.7 1.2 2.8M246.3 -3.4l.7 2.9 .7 2.9 .7 3 .6 2.9 .7 2.9 .6 2.9M125.6 79l3 .6 2.9 .8 2.8 1 2.7 1.2M272.8 271.6l1.7 2.6 1.6 2.5 1.5 2.6 1.4 2.6 1.4 2.7M29.4 194.5l-2.2-2.1-2-2.2-1.8-2.4-1.7-2.5M244.4 68.9l.5 3 .5 3 .5 2.9 .5 3 .5 2.9M179.1 170.3l.9 2.9 2.6 1.6 2.9-.2 2.3-2 .6-2.9-1.2-2.7M218.5 16.5l1.3 2.7 1.2 2.7 1.1 2.8 1 2.9 .9 2.8M32.4 228.9l3-.1 3 .1 3 .2M167.1 200.3l2.8 1.2 2.9 .9 2.9 .8 2.9 .5M254.1 86l.5 3 .5 2.9 .5 3M114.1 192.3l-.7 2.9-.2 3 .6 2.9 1.8 2.4 2.4 1.8 2.7 1.2M26 260.9l2.9 .2 3 .3 3 .3 3 .4 3 .4 2.9 .5M162.8 197l2.5 1.6 2.6 1.4 2.8 1.2 2.8 .9 3 .7M113.3 191.5l-.8 2.9-.5 2.9 .2 3 1.3 2.7 2.2 2 2.6 1.4M268.3 215.6l1.2 2.7 1.4 2.7M166.4 242.4l2.9-.7 3-.6 2.9-.6 3-.5 2.9-.6M218.4 32.9l.8 2.9 .8 2.9 .6 2.9 .6 3 .5 2.9 .4 3M280 82.4l.6 3 .5 2.9 .5 3 .5 3M137.9 278.5l2.9-.7 2.9-.8 2.9-.8 2.9-.8 2.9-.9M108.3 24.4l2.5-1.7 2.5-1.7 2.5-1.7 2.5-1.7 2.4-1.7M212.3 139.6l-3-.4-2.9-.6-3-.6-2.9-.5-3-.5-3-.3M220.2 269.5l2.6 1.5 2.4 1.7 2.3 2 2.1 2.1M77.1 172.2l-1.1 2.8-1.3 2.7-1.6 2.5-1.8 2.4-2.1 2.2-2.2 2M145.1 20.8l2.1-2.1 2.3-1.9 2.5-1.7 2.5-1.6 2.7-1.4M24.2 221.4l2.5-1.8 1.8-2.3 .3-3-1.1-2.8M17 204.1l-1.3-2.7-1.4-2.7-1.3-2.7M28.5 -2.1l2.4-1.9 2.3-1.9 2.3-1.9M15.9 20.2l2.2-2 2.3-2 2.2-2 2.3-2 2.2-1.9M128.9 66.9l2.5-1.6 2.1-2.2 1.4-2.6 1-2.9M257.7 50l.6 2.9 .5 3 .6 2.9 .5 3M258.3 22.4l.6 3 .6 2.9 .6 3 .6 2.9M39.8 243.1l3 .4 2.9 .5 3 .6 2.9 .5 3 .6M274.3 236.4l1.9 2.3 2 2.2 2 2.2 2.2 2.1M58.5 280.6l3 .4 3 .4 2.9 .3 3 .4 3 .3 3 .3 3 .3M234.4 272.5l1.9 2.3 1.7 2.5 1.6 2.5 1.5 2.7 1.2 2.7M237.6 74.1l.5 2.9 .5 3 .5 2.9M-4.4 288.4l2.8-1.1 2.8-.9 2.9-.9 2.9-.7 3-.6M179.8 63.8l-2.9 .6-3 .2-3-.3-2.9-.8M78.7 45l2.4-1.8 2.4-1.7 2.4-1.8 2.5-1.7M170.5 238.5l2.9-.6 3-.5 2.9-.5 3-.5 2.9-.5M287 104.8l.5 3 .4 3 .5 2.9M292.7 140.2l.3 3 .3 3 .2 3 .3 2.9 .2 3M263.3 144.6l.3 3 .3 3 .3 3 .3 3 .3 3 .3 3M17.3 138.2l1.9-2.3 2-2.3 2.1-2.1 2.2-2 2.4-1.8M154.8 199.3l2.4 1.8 2.5 1.6 2.7 1.3 2.8 1.1M206.1 7.1l2.1 2.1 1.9 2.3 1.8 2.4 1.7 2.5M117.5 169.8l-1.4 2.6-1.3 2.7-1.4 2.7-1.3 2.6M289.6 103.1l.4 2.9 .5 3 .5 2.9 .5 3M96.7 22l2.6-1.6 2.5-1.5 2.6-1.5 2.6-1.5M84.1 186.6l-1.9 2.4-1.9 2.3-2.1 2.2-2.1 2-2.3 2-2.4 1.8M217.6 92.5l.2 3 .3 3M196.8 189.7l2.6-1.6 2.4-1.8 2.1-2 1.9-2.4M143.8 125.5l-1.2 2.7-1.4 2.7-1.4 2.7M17.8 168.5l-.1-3 .1-3 .4-3 .7-2.9 .9-2.8M215.1 140.8l-3-.2-2.9-.6-3-.7M39.4 279l3 .3 3 .3 2.9 .4M157 74.2l-2.4-1.8-2.1-2.2-1.8-2.4-1.4-2.7-1.1-2.7-.9-2.9M250.8 61l.5 2.9 .5 3 .6 2.9 .5 3M289.7 8.5l.9 2.9 .8 2.9 .8 2.9M296.3 19.2l1 2.9 .9 2.8 .9 2.9M182.5 75.7l-2.8 1-2.9 .8-2.9 .6-3 .2-3 0M151.2 77.4l-2-2.3-1.4-2.6-1.1-2.8M125.2 281.7l2.9-.6 3-.7 2.9-.7 2.9-.7 2.9-.8M121.1 189.4l-.4 3 0 3 .8 2.9 1.6 2.5 2.3 2 2.5 1.6M270 41.2l.6 2.9 .5 3 .6 2.9 .6 3 .6 2.9 .5 3M7 39.2l2.1-2.1 2.2-2 2.2-2.1 2.2-2 2.2-2.1 2.2-2M281.8 54.7l.7 2.9 .6 3 .6 2.9 .6 2.9 .6 3M149.8 18.1l2.4-1.8 2.5-1.6 2.7-1.5M128.8 255.3l2.9-.5 3-.6 2.9-.6M111.5 237.2l3-.2 3-.2 3-.3 3-.3M202.7 80.2l-1.2 2.8-1.2 2.7-1.2 2.7-1.3 2.8-1.4 2.6-1.4 2.7M48.3 27.3l2.3-1.9 2.3-2M180 130l-2.7 1.2-2.7 1.3-2.6 1.6-2.4 1.7-2.4 1.8M88.9 114.5l.5-3 .6-2.9 .8-2.9 1.1-2.8 1.3-2.7 1.6-2.5M14.3 259.5l3 0 3 0 3 .1M303.5 234.3l2.6 1.4 2.8 1.2 2.8 1.1 2.8 .9 2.9 .9M43.6 227.7l3 .4 2.9 .6 2.9 .7M42.1 248.7l2.9 .5 3 .5 2.9 .6 3 .5 2.9 .6M-1.9 81.7l1.9-2.3 1.9-2.3 2-2.3 2-2.2 2-2.2M40.2 291.4l3-.2 3 0 3-.1 3 0 3 .1 3 0 3 .1M20.2 209.1l-1.1-2.8-1.4-2.7-1.4-2.6-1.4-2.7M280.9 104.8l.5 3 .4 3 .5 2.9 .4 3 .4 3M31.6 71.5l2.2-2 2.2-2.1 2.2-2 2.2-2 2.2-2 2.2-2.1M263.3 286.7l.9 2.9 .9 2.8 .7 2.9 .6 3 .5 2.9 .5 3M141 284.8l2.9-.8 2.9-.9 2.8-.9M263.6 271.4l1.5 2.5 1.4 2.7 1.4 2.6M12.7 20.2l2.2-2 2.2-2 2.2-2 2.3-2 2.2-2 2.3-2M54.2 85.2l2.2-2 2.2-2M252.4 195.6l.7 2.9 .7 2.9 .7 2.9 .9 2.9 .9 2.9 1.1 2.8M170.7 243.3l2.9-.6 3-.6 2.9-.5 3-.6M40.7 26.5l2.3-1.9 2.3-2M206.5 169.8l-.3-3-.9-2.8-1.3-2.7-1.8-2.5-2-2.2M119 219.1l3 0 3-.1 3-.2M156.8 117.1l-1.2 2.7-1.4 2.7-1.3 2.7-1.4 2.6-1.5 2.7-1.4 2.6-1.4 2.7M244.4 152l.3 3 .2 3 .2 3 .3 3 .3 3 .3 2.9M152.2 241.7l2.9-.7 3-.6 2.9-.7 2.9-.6 3-.6 2.9-.6M117.8 23l2.4-1.9 2.3-1.9 2.3-1.9 2.4-1.9 2.3-1.8M3.9 -1.5l2.2-2 2.2-2 2.2-2 2.3-2 2.3-2M181.8 49l-2.4 1.7-2.9 .8-3-.2-2.8-1.2M277.8 267.2l1.8 2.3 1.9 2.4 1.8 2.4 1.9 2.3 1.8 2.4 1.7 2.5M35 87l2.2-2 2.3-2 2.2-2 2.2-2 2.3-2M23.4 212.2l-1-2.9-1.3-2.7-1.5-2.6-1.5-2.6M72 8.1l2.4-1.7 2.5-1.7 2.5-1.7 2.6-1.5 2.6-1.6 2.6-1.4M203.4 181.5l1.6-2.5 1.1-2.8 .7-2.9 .3-3-.3-3-.8-2.9M188 87.1l-2.3 2-2.3 1.9-2.3 1.9M125.9 153.4l-1.8 2.4-1.8 2.5-1.6 2.5M300 56.7l.8 2.8 .9 2.9 .8 2.9 .8 2.9 .9 2.9M299.6 48.5l.8 2.9 .9 2.9 .9 2.8M134.4 155.7l-1.7 2.5-1.6 2.5-1.5 2.6-1.4 2.7M249.8 75.7l.5 2.9 .5 3 .5 2.9 .5 3 .4 3 .5 2.9M131.1 268.3l2.9-.6 2.9-.6 3-.7 2.9-.7 2.9-.7M9.6 254.6l3-.2 3 0 3-.1 3 .1 3 .1 2.9 .2M154.4 256.9l2.9-.8 2.9-.7 2.9-.7M31.7 278.3l3 .2 3 .2 3 .2 2.9 .3 3 .4M55.6 110.2l2.6-1.4 2.6-1.5 2.5-1.7 2.4-1.8 2.2-2M60.1 67.4l2.3-2 2.2-2M34.1 249.7l3 .4 2.9 .4 3 .5 3 .5 2.9 .5 3 .6M114.7 199.4l1.3 2.7 2.2 2 2.6 1.5 2.8 1.2 2.8 .9M69.5 278.5l2.9 .4 3 .3 3 .4M112.6 80.4l3 0 3 .2M211.4 88.2l-.1 3-.1 3-.1 3 0 3-.2 3M74.6 265.2l2.9 .4 3 .4 3 .4 3 .3 2.9 .3 3 .2M129.7 197.5l1.7 2.4 2.2 2.1 2.5 1.7 2.6 1.5 2.6 1.3M279.3 127.3l.3 2.9 .4 3 .4 3M245.3 276.9l1.4 2.6 1.3 2.7 1.2 2.8 1 2.8 .9 2.8M91.3 162.7l-.4 3-.6 3-.7 2.9-1 2.8-1.1 2.8-1.3 2.7M174.4 272.6l2.9-.7 2.9-.7 3-.5M229.6 167l.3 3 .6 2.9 .7 2.9M53.4 270.5l2.9 .5 3 .5 2.9 .5 3 .5M245.7 230.6l1.8 2.4 1.8 2.4 1.8 2.4 1.9 2.4 1.8 2.3 1.8 2.4M217.5 236.6l2.8 1 2.7 1.2 2.7 1.4 2.6 1.5 2.5 1.7M2.8 196.6l-.8-2.9-.8-2.9-.9-2.9-.7-2.9-.7-2.9-.7-2.9M205.3 187.4l2.2-2 2-2.3 1.7-2.4 1.5-2.7 1-2.8 .6-2.9M49.4 83.5l2.2-2 2.2-2 2.3-2 2.2-2M117.7 273.2l3-.4 3-.4 2.9-.5 3-.6 2.9-.6M-1.2 214.3l1.7-2.5 1.1-2.8 .5-2.9-.1-3-.4-3M26.1 230.4l3-.3 3-.1 3 0 3 .1 3 .3 3 .3 3 .5M121.1 260l3-.4 2.9-.4 3-.5 2.9-.6 3-.6 2.9-.6"/>
<path stroke="#000" stroke-opacity="0.12" d="M196.2 274.3l3-.1 3 .1 3 .3M-.9 62.2l2-2.2 2.1-2.2 2-2.2M105.9 120.3l-2.9-.8-2.5-1.6-1.9-2.3-1.3-2.8-.6-2.9M153.9 271.7l2.9-.8 2.9-.8 2.8-.8M68.6 179.1l-2 2.3-2.2 2-2.4 1.8-2.7 1.4-2.8 1.1-2.9 .7M299.2 169.9l.2 2.9 .2 3 .2 3M28.1 129.7l2.4-1.7 2.5-1.7 2.6-1.4M-4.8 120.7l1.5-2.6 1.6-2.6 1.7-2.5M139.9 43.6l.9-2.9 1-2.8 1.1-2.8 1.4-2.7M148 143.7l-1.4 2.7-1.6 2.5-1.8 2.4-1.8 2.4-1.8 2.4M39.4 2.4l2.3-1.9 2.4-1.9 2.3-1.9 2.4-1.8 2.4-1.8M71.1 7.4l2.5-1.7 2.4-1.7 2.5-1.7M-.9 160.1l.3-3 .5-2.9 .7-3M218.7 83.6l.2 3 .2 3 .3 2.9 .3 3M99.2 87l2.7-1.3 2.8-1 2.9-.7 3-.4 3 0M270.3 164.1l.2 3 .3 3M144.4 277.6l2.9-.8 2.9-.8 2.8-.8 2.9-.9M206.5 218.1l3 .2 3 .4 2.9 .7 2.9 .9 2.7 1.2 2.6 1.5M236.5 175.5l.5 2.9 .6 2.9 .7 3 .7 2.9 .7 2.9M270.5 296.6l.6 2.9 .5 3 .4 3 .3 3 .2 3M98.2 128.1l-2.6-1.4-1.8-2.4M245.5 262.7l1.8 2.3 1.8 2.5 1.7 2.5 1.6 2.5M179.1 69l-2.9 .5-3 .2-3-.2-2.9-.6-2.9-1-2.6-1.4M219.8 11.6l1.3 2.7 1.2 2.8 1.2 2.7M147.3 60.6l-.6-3-.5-2.9-.2-3 0-3 .2-3M252.6 195.8l.7 3 .7 2.9 .8 2.9 .8 2.9 1 2.8 1 2.8M5.3 57.7l2.1-2.1 2.1-2.1M270.8 187l.5 3 .4 3 .6 2.9 .6 3M2.7 66.4l2.1-2.1 2-2.2 2.1-2.2M-3.1 13.9l2.2-2.1 2.2-2.1 2.1-2.1 2.2-2 2.2-2.1 2.2-2M61.5 .4l2.4-1.8 2.5-1.7 2.4-1.7 2.6-1.6 2.5-1.6M219.9 278l2.4 1.9 2.2 2.1 1.9 2.3 1.6 2.5M91.6 22.2l2.6-1.6 2.5-1.6 2.6-1.6 2.6-1.5 2.6-1.4 2.6-1.5M237.2 .8l.8 2.9 .8 2.9M94.6 90l2.4-1.8 2.6-1.6 2.7-1.2M190.5 39.7l.3 2.9-.2 3-.7 2.9-1.3 2.7-1.8 2.5-2.1 2.1M68.1 213.6l-.3 3 1.5 2.5 2.3 1.9 2.6 1.6M93.3 3.4l2.7-1.4 2.7-1.3 2.7-1.3 2.8-1.2M150.4 164.2l-1 2.8-.8 2.9-.5 3-.2 2.9 0 3M167.8 14l3-.6 3-.2 3 0M184.3 262.5l3-.5 2.9-.4 3-.4 3-.3 3-.1 3-.1 3 .2M126.3 295.4l2.8-1.2 2.7-1.1 2.8-1.1 2.9-1 2.8-1.1M238.9 97.3l.5 3 .4 3 .4 2.9M42.1 185.9l-2.7-1.3-2.5-1.6-2.3-2M232.3 71.2l.4 3 .5 2.9 .5 3 .5 3 .5 2.9 .5 3 .5 2.9M166.5 129.1l-2.1 2-2.1 2.2-2 2.3M246.3 1.6l.7 2.9 .6 2.9 .7 3 .7 2.9 .6 2.9M291.4 180.5l.3 3 .4 2.9 .5 3 .5 3 .7 2.9 .9 2.9M186.6 177l2.5-1.7 1.6-2.5 .4-3M233.6 123.1l.1 3 .1 3 .1 3 0 3 0 3-.1 3M271.5 40.9l.5 3 .6 2.9 .6 3 .6 2.9 .6 3 .5 2.9M253.6 18.8l.6 2.9 .6 3 .6 2.9 .6 2.9M-4.3 191.3l-.6-2.9-.6-2.9-.6-3-.5-2.9-.5-3-.3-3M18.8 208.1l-1.1-2.8-1.3-2.7M269.5 55.9l.5 3 .6 2.9M80.5 175.8l-1.3 2.7-1.5 2.6-1.8 2.4-1.9 2.3-2.1 2.2M148.2 170.4l-.4 3-.3 3 .1 3M111 100.6l2 2.3 .2 3-1.6 2.6-2.7 1.2-2.9-.6-2-2.3M122.5 122.9l-2.1 2.1-2.4 1.9-2.5 1.6-2.7 1.3-2.7 1.2M287.5 92.5l.5 3 .5 2.9 .5 3 .5 3 .5 2.9M22.3 104.3l2.3-1.9 2.3-1.9 2.3-1.9M38 147.3l2.6-1.5 2.8-1.1 2.9-.8 3-.4 3 0M285 101.7l.4 2.9 .5 3M126.9 257.3l2.9-.5 3-.6 2.9-.6 3-.6 2.9-.6M15 217.2l1.4-2.6 .5-3-.4-2.9-.9-2.9M20.9 301l2.4-1.8 2.6-1.5 2.7-1.2 2.9-.9 2.9-.8M30.6 90l2.3-2 2.2-2 2.3-2 2.2-2M11.6 286.1l3-.6 2.9-.4 3-.3 3-.3M83.1 225.7l2.9 .8 2.9 .7 2.9 .5M-4.7 287.5l2.8-1 2.9-.9 2.9-.8 2.9-.7M173.8 197.1l2.9 .9 2.9 .6 3 .3 3 .1 3-.1M297.1 259.3l2.5 1.6 2.6 1.4 2.7 1.4M175.2 225.5l3-.3 3-.4 3-.3 3-.2 3-.3M28 137l2.3-1.9 2.4-1.7 2.6-1.6 2.7-1.3M5.4 13l2.2-2.1 2.2-2 2.2-2M116.3 234.3l3-.3 3-.3 3-.3M208.7 62.3l-.7 2.9-.7 2.9-.9 2.9-.9 2.8M77.7 23.5l2.4-1.7 2.4-1.8 2.5-1.7M-2.9 13.1l2.2-2.1 2.1-2 2.2-2.1 2.2-2.1 2.2-2M183.5 161.5l-2.9 .6-2.6 1.6-1.9 2.4M168.2 298.2l2.8-1.2 2.8-1M7.6 154.1l.8-2.9 1-2.9 1.1-2.7 1.4-2.7M252.8 177.9l.3 3 .4 2.9 .4 3M85.5 24.7l2.4-1.6 2.5-1.7 2.6-1.6 2.5-1.6M27.2 95.8l2.3-2 2.3-2 2.2-1.9 2.3-2 2.3-1.9 2.2-2M179.4 270.7l3-.6 2.9-.5 3-.5 3-.4M24 153.2l1.4-2.6 1.7-2.5 1.9-2.3 2.1-2.2 2.3-1.9 2.5-1.7M198.6 185.7l2.3-2 1.9-2.3 1.6-2.6 1.1-2.7M169.8 117.6l-2.1 2.1-2 2.2-2 2.3-1.9 2.3M119.6 74.2l3-.1 3 0 3-.1 3-.2 3-.5M277.5 154.9l.3 3 .2 3 .3 3M89.9 116.3l.3-3 .4-3 .6-2.9M62.7 201.2l-2.8 1-2.9 .8-3 .5M209.2 19.5l1.6 2.5 1.4 2.7 1.3 2.7M70.4 182.1l-2.1 2.2-2.3 2-2.4 1.7-2.7 1.4-2.8 1.1-2.8 .8-3 .5M132 74.8l3-.3 2.9-.9 2.1-2.1 1-2.8M298.5 120.9l.5 2.9 .4 3 .3 3 .4 3 .4 3 .3 2.9M286 14.2l.8 2.9 .7 2.9 .8 2.9 .7 2.9 .8 2.9 .8 2.9 .8 2.9M75 150.9l1.4 2.7 1 2.8 .7 3M186.1 185.4l2.9-.6 2.8-1.1 2.5-1.7 2.2-2 1.7-2.5M258.6 49.6l.6 2.9 .5 3 .5 2.9 .6 3 .5 2.9 .5 3M239.8 261.6l2 2.2 1.9 2.3 1.8 2.4M243.9 251.8l2 2.2 2 2.3M148.8 280.4l2.9-.9 2.9-.8 2.9-.9M-2.7 143.8l1-2.8 1.1-2.8 1.3-2.7 1.4-2.7 1.5-2.6 1.6-2.5M25.6 156.4l1.3-2.8 1.5-2.6 1.8-2.4M275.9 75.2l.5 3 .6 2.9 .5 3M238.5 258.5l2.1 2.1 2 2.3 1.9 2.3 1.9 2.4M269.1 282.9l1.1 2.8 1.1 2.8M146.2 206l2.7 1.2 2.8 1.1 2.9 1 2.9 .8M257.8 263.1l1.7 2.5 1.6 2.5 1.6 2.5 1.6 2.6 1.4 2.6M184.1 215.1l3-.2 3-.2 3-.2M28.1 106.5l2.4-1.8 2.4-1.8 2.4-1.7M67.6 11l2.4-1.8 2.5-1.8 2.4-1.7M175.4 271.7l2.9-.6 2.9-.7 3-.5 2.9-.5 3-.5M36.5 5.3l2.4-1.9 2.3-1.9 2.3-1.9 2.4-1.9 2.3-1.8 2.4-1.8M40.3 54.1l2.2-2 2.3-2 2.2-2 2.2-2 2.3-2 2.3-1.9 2.2-2M204.7 238.3l3 .2 3 .3 2.9 .5 2.9 .8M110.3 231.5l3-.1 3-.2 3-.2 3-.3 3-.3 3-.4M109 269l3-.2 3-.3 3-.3 3-.4 2.9-.4M109.8 175.6l-1.4 2.7-1.4 2.7M207.8 181.9l1.6-2.6 1.2-2.8 .7-2.9 .3-2.9-.2-3-.7-3-1.1-2.7M180.5 90.3l-2.5 1.7-2.4 1.8-2.4 1.9-2.1 2.1-1.9 2.3M191.2 31.6l1.6 2.6 1.2 2.7 .7 2.9M142.1 248.1l2.9-.7 2.9-.7M286.5 16.9l.8 2.9 .7 2.9 .8 2.9 .8 2.9 .7 2.9M190.5 270.4l3-.3 3-.2 3-.1M281.6 172l.3 3 .3 3 .3 3 .4 2.9 .3 3 .5 3M160 62.9l-2.1-2.2-1.8-2.4-1.4-2.6-1-2.9M208.7 264.3l3 .6 2.9 .7 2.8 1 2.8 1.2 2.6 1.4M60.1 129.7l3 0 3 .2 3 .3 3 .4 2.9 .6 2.9 .6M81.5 192.3l-2.1 2.2-2.1 2.1-2.3 2-2.3 1.9-2.4 1.8-2.5 1.7-2.5 1.5M53.8 93.2l2.3-1.9 2.2-2 2.3-2M166.8 154.8l-1.8 2.4-1.5 2.6-1.3 2.7-1.1 2.8-.7 2.9-.4 3M261.9 97.6l.4 2.9 .5 3M256.1 155.9l.3 3 .2 3 .3 3 .3 3 .3 2.9M68.5 303.7l2.2-2 2.7-1.4 2.8-1 2.9-.8 2.9-.7M30.3 3.5l2.3-1.9 2.3-2 2.3-1.9 2.3-1.8 2.4-1.9 2.4-1.8M166.4 83l-3 .1-3 0-3-.1-3-.2-3-.2-2.8 .9M139.5 47l.7-2.9 .8-2.9 1-2.8 1.1-2.8 1.3-2.7M65.3 26l2.4-1.9 2.3-1.8 2.4-1.8 2.4-1.8 2.4-1.8M59.2 210l-2.8 1.1-2.8 .9-3 .6M75.8 242.1l2.9 .5 3 .5 2.9 .5 3 .4M51.3 180.5l-3 .2-3-.3-2.8-1-2.6-1.6-2.3-2M271.9 91.2l.5 3 .5 2.9 .5 3M291.1 266.6l2.3 1.9 2.3 1.9M124.8 273.6l2.9-.6 3-.5M263.3 167.9l.3 3 .3 3 .3 3 .4 3 .3 2.9 .4 3M66.2 139.4l2.8 1.3 2.5 1.6 2.3 1.9 2.1 2.1 1.7 2.5 1.5 2.6M237.8 262l2.1 2.2 1.9 2.3 1.9 2.4 1.7 2.4 1.7 2.5 1.5 2.6 1.4 2.7M21.7 264.2l3 .1 3 .2 3 .2 3 .3 3 .3 2.9 .4M95 103.1l1.2-2.8 1.7-2.5 2.1-2.1 2.4-1.8 2.8-1.2 2.9-.7M219.2 156.8l-2.5-1.7-2.4-1.9-2.4-1.7-2.4-1.7-2.6-1.6M33.5 265.5l3 .3 2.9 .4 3 .4 3 .4 2.9 .5M103.5 230.8l3 .1 3-.1 3 0 3-.2 3-.2M152.6 198.9l2.3 1.9 2.5 1.7 2.7 1.4 2.7 1.2 2.8 1M5.1 219.9l2.3-1.8 2.1-2.3 1.4-2.6 .5-3-.1-3-.6-2.9-.9-2.9M63.9 26l2.4-1.9 2.3-1.9 2.4-1.8 2.4-1.8 2.4-1.8M280.5 253.7l2.2 2.1 2.1 2 2.3 2.1M-.5 184.7l-.7-2.9-.6-2.9-.5-3-.4-3M179.8 298.3l3-.5 3-.1 3 .1 2.9 .6M50.7 247.6l3 .6 2.9 .6 2.9 .6 3 .6M4.5 254.7l3-.2 3-.2 3-.2 3 0 3 0M299.2 270.8l2.5 1.7 2.5 1.6M123.6 134.8l-2.2 2-2.3 2-2.3 1.9-2.3 1.9-2.1 2.1-2 2.3M54.6 12l2.3-1.9 2.4-1.9 2.3-1.8 2.4-1.8 2.5-1.8 2.4-1.7 2.5-1.7M78.3 128.5l3-.1 3-.3 2.8-1M260.4 194.6l.6 3 .6 2.9M88.2 209.1l.8 2.9 1.9 2.3M60.6 292.6l3 0 3 0 3 0 3 0 3-.1 3 0M32.4 87l2.2-2 2.3-2 2.2-2 2.2-2 2.3-2M117.9 73.6l3-.2 3-.1 3-.1 3-.2 2.9-.6 2.8-1.1M59.2 153.1l2.2 2.1 1.8 2.4 1.3 2.7 .7 2.9 .1 3-.5 3M28.6 280l3 .1 3 .1 3 .2 3 .2 3 .3M170.1 59.3l-2.7-1.2-2.5-1.6-2.1-2.2M68.9 263.3l2.9 .5 3 .5 3 .5 2.9 .4 3 .4 3 .3M56.6 19.7l2.3-1.9 2.4-1.8 2.3-1.9M161.7 261.2l2.9-.8 3-.7 2.9-.8 2.9-.7 2.9-.6 2.9-.7 3-.6M15.8 151.7l1.2-2.7 1.4-2.7 1.6-2.6M191.4 300.3l2.3 1.9 .9 2.8-.9 2.9-1.9 2.3-2.4 1.8M266.9 239.7l1.8 2.4 1.9 2.3 2 2.3 1.9 2.3M56.6 120.4l2.9-.7 2.9-.8 2.8-.9 2.8-1.1 2.7-1.3M24.8 285.6l3-.2 3-.1 3 0 3 0M253.9 272.6l1.5 2.6 1.4 2.6 1.3 2.7 1.1 2.8M276 7.7l.7 2.9 .6 3 .7 2.9 .7 2.9 .6 2.9 .7 3M40.4 130.9l2.9-1 2.8-.9 2.9-.8M28.9 85.8l2.2-2.1 2.2-2 2.2-2 2.3-2M163.8 -2.8l3-.4 3-.3 3-.1 3 .1 3 .2 3 .4M130.8 196.6l1.7 2.5 2.1 2.2 2.3 1.8 2.6 1.6M191.8 148.1l-3-.4-3-.1-2.9 .4M192.4 300.1l2.2 2 .9 2.9-.7 2.9-1.8 2.4-2.3 1.9M286.5 33.5l.7 2.9 .7 2.9 .7 2.9 .7 3 .7 2.9M48.3 265l3 .5 3 .5 2.9 .5 3 .6 2.9 .5 3 .5 2.9 .5M170.3 108.8l-1.7 2.4-1.8 2.4-1.7 2.5-1.7 2.4-1.8 2.5M291.4 60.4l.7 2.9 .7 3 .6 2.9 .7 2.9M20.2 155.6l1.1-2.8 1.3-2.7 1.5-2.6M89.9 54.4l2.5-1.6 2.6-1.5 2.5-1.6 2.6-1.5 2.6-1.5 2.6-1.5M115.8 103.3l.2 3-1 2.8-1.9 2.3-2.7 1.4-3 .2-2.8-1M171.7 119l-2.2 2-2.1 2.1-2.2 2.1-2 2.2M213.7 156.6l-2.1-2.2-2.2-2M178.5 289.3l2.9-.6 3-.5 3-.4 3-.2M303.1 14.9l1.1 2.8 1.1 2.8 1.2 2.8 1.2 2.7M295.7 162.6l.2 3 .2 3 .2 3 .2 2.9 .2 3 .3 3M184.3 224.2l3-.2 3-.3 2.9-.3 3-.2M150 272l2.9-.8 2.9-.8 2.8-.8 2.9-.8M224.4 81.2l.4 3 .4 2.9 .4 3 .4 3 .4 2.9M289 175l.3 2.9 .3 3 .3 3 .4 3 .5 2.9 .5 3M3.3 18.3l2.2-2 2.1-2.1 2.2-2 2.3-2.1 2.2-2M248.1 -.8l.7 2.9 .7 3 .6 2.9M222.2 241.9l2.7 1.3 2.7 1.5 2.5 1.6 2.4 1.7 2.4 1.9 2.3 1.9M303.8 154.2l.2 3 .1 3M27.6 175.8l-1-2.8-.7-2.9-.4-3 0-3"/>
<path stroke="#000" stroke-opacity="0.22" d="M44.5 242.1l2.9 .5 3 .6 2.9 .6M147.5 154.7l-1.8 2.5-1.5 2.5-1.4 2.7-1.3 2.7-1.1 2.8M177.1 5.6l3 .4 3 .5 2.9 .8 2.8 .9M96 79.8l2.7-1.4 2.7-1.2 2.9-1 2.8-.8M203 124.2l-3 .6-2.9 .6-3 .5-2.9 .5-3 .6M155.1 285.3l2.9-.9 2.8-.9 2.9-.9 2.9-.9M29.4 295.1l2.9-.8 2.9-.5 3-.5 3-.3M6.1 139.3l1.4-2.7 1.5-2.6 1.7-2.4 1.8-2.4M165.5 88.4l-2.8 1.3-2.4 1.7-1.7 2.5-.9 2.9M277.3 39.2l.6 3 .6 2.9 .7 2.9 .6 3M184.3 123.3l-2.8 1.1-2.7 1.3-2.7 1.4M171.3 205.2l2.9 .6 3 .5 3 .3 3 .1M172.7 6.1l3 0 3 .2 3 .5 2.9 .6 2.9 .9 2.7 1.1M293.6 28.3l.9 2.9 .8 2.9 .9 2.9 .8 2.9 .9 2.8M104.8 67.9l2.9-1 2.8-.9 2.9-.9 2.9-.8M293 107.3l.5 2.9 .5 3M47.6 5.3l2.4-1.9 2.3-1.8 2.4-1.8 2.4-1.8 2.4-1.8 2.5-1.8M21.2 92.3l2.1-2.1 2.2-2 2.2-2M17.3 233.5l3-.3 3-.3 2.9-.1 3-.1M251.2 130.1l.3 3 .3 3 .3 3M285.3 160.1l.2 3 .3 3 .2 3 .3 3 .2 3 .3 2.9 .3 3M11.2 298.2l2.5-1.6 2.7-1.4M61.8 80.9l2.2-2.1 2.3-2 2.2-2M243.1 111.7l.4 3 .4 2.9M107.5 179l-1.4 2.7-1.5 2.6-1.4 2.6-1.5 2.6-1.5 2.6M272.8 69.1l.5 3 .6 2.9 .5 3 .5 2.9 .5 3 .5 2.9 .5 3M171.7 189.2l2.6 1.5 2.7 1.2 2.9 .8 3 .4 3 .1M220.7 124.2l-.9 2.9-1.3 2.7-1.9 2.3-2.6 1.5M41.2 86.7l2.3-2 2.3-2 2.2-2 2.2-2 2.3-2M152.4 11.4l2.7-1.4 2.7-1.2 2.8-1.1 2.9-.8M110.6 235.3l3-.1 3-.2 3-.3M198 281.7l3 .2 3 .5 2.9 .7 2.8 1.1M19 134.1l2-2.2 2.2-2.1 2.2-2 2.4-1.8 2.5-1.7 2.5-1.6M187 25.5l2.4 1.9 2 2.1 1.8 2.4 1.5 2.6 1 2.9M169 -2l3-.2 3 .1M148.3 265.1l2.9-.8 2.9-.7M15.7 137.7l1.8-2.4 2-2.3 2.1-2.1 2.2-2.1 2.3-1.9M83.2 229.3l2.9 .6 3 .6 3 .5M138.2 17.2l2.2-1.9 2.3-1.9 2.5-1.8 2.5-1.6M120.2 215.1l3 .1 3 .1 3 0M45.6 211.6l-2.9-.8-2.8-1.2-2.6-1.4M269.4 189.6l.4 3 .5 2.9 .6 3 .7 2.9 .8 2.9M174.1 144.2l-2.6 1.6-2.3 1.8-2.2 2.1-2 2.2-1.9 2.4-1.6 2.5M234.2 254.5l2.2 2 2.2 2M175.5 64.1l-3 0-3-.6-2.8-1M232.9 188.3l1.1 2.8 1.1 2.8 1.1 2.8 1.1 2.8 1.1 2.7 1.1 2.8M295.2 210.9l1.7 2.4 2 2.3 2.2 2.1M40.7 292.9l3-.3 3-.1 3-.2M247.8 189.5l.5 2.9 .7 2.9 .6 3M86.3 248.1l3 .4 3 .3M89.2 126.5l.6-2.9 .2-3 .1-3 .2-3 .3-3M249.8 150.7l.3 3 .2 3 .3 3 .3 3M89.9 108.2l.8-2.9 1.1-2.8 1.4-2.6 1.6-2.5 2-2.3M45.1 98l2.4-1.8 2.4-1.8 2.3-1.9 2.3-1.9 2.3-2M9.1 149.9l1-2.9 1.3-2.7 1.4-2.6M258.8 221.1l1.4 2.7 1.5 2.6 1.5 2.6 1.6 2.5 1.7 2.5 1.8 2.4M93.3 191.6l-1.7 2.5-1.7 2.5-1.7 2.4-1.7 2.5-1.6 2.5-1.4 2.7M86.5 41.4l2.5-1.8 2.5-1.6M65.8 58.6l2.3-1.9 2.3-1.9 2.3-1.9 2.4-1.9 2.3-1.9M238.9 112.5l.3 3 .4 2.9 .3 3 .3 3 .2 3 .3 3M182.8 99.5l-2.1 2.2-2 2.2-2 2.3M19.6 104l2.2-2 2.3-2 2.3-1.9 2.3-2 2.3-1.9M228.8 65.3l.5 3 .4 2.9 .4 3 .5 3M272 95.2l.5 3 .5 2.9 .4 3 .5 3 .4 2.9 .4 3M246.7 69.8l.5 3 .5 2.9 .5 3 .5 2.9 .5 3M27.3 168.3l-.1-3 .3-3 .6-3M126.5 -4l2.8-1.1 2.8-1.1 2.8-1M276.5 41.3l.6 3 .6 2.9 .6 2.9 .6 3 .6 2.9 .6 3 .6 2.9M263.4 81.2l.5 2.9 .5 3 .5 3 .5 2.9M29 175.8l-1.1-2.8-.7-2.9-.4-3 0-3 .4-3M144.7 16.3l2.4-1.9 2.4-1.7 2.6-1.6M59.8 67.7l2.2-2 2.3-2M131 240.4l2.9-.5 3-.5 2.9-.6 3-.6 2.9-.6 3-.6 2.9-.6M274.7 3.1l.6 2.9 .7 2.9 .6 2.9 .7 3 .7 2.9 .6 2.9M208 270.9l2.9 .7 2.9 .8 2.8 1.1M63 301.6l2.7-1.3 2.8-1 2.9-.8M175.5 180.6l2.4 1.7 2.8 1.1 3 .5 3-.2 2.8-.8 2.7-1.4 2.3-1.9M173.3 33l3-.3 2.9 .6 2.6 1.6 1.9 2.3 1.2 2.8 .2 3-.7 2.9M239.3 190.1l.8 2.9 .8 2.9 .9 2.9M18.4 226.9l2.9-.8 2.9-.8 2.9-.9M88.7 66.4l2.5-1.6 2.6-1.5 2.6-1.5 2.7-1.3 2.7-1.4M267.5 54.9l.6 2.9 .5 3 .5 2.9 .6 3 .5 2.9 .6 3M33.7 207l-2.4-1.9-2.2-2M130.5 254.1l2.9-.5 3-.6 2.9-.6 2.9-.7M123.3 245.4l2.9-.4 3-.5 3-.5 2.9-.5M48.9 245l2.9 .6 3 .6M222.4 173.9l3 0 1.7 2.5 1.4 2.7 1.3 2.6M116.5 15.1l2.5-1.6 2.5-1.6 2.6-1.7 2.5-1.6 2.6-1.6M273.6 180.1l.4 3 .3 3 .4 3 .5 2.9M134.9 69.1l1.9-2.3 1.2-2.8 .7-2.9M258.5 294.7l.7 2.9 .5 3 .4 2.9 .4 3 .3 3M3.9 257.1l3-.3 3-.2 2.9-.1M64.6 21.2l2.3-1.9 2.4-1.8 2.4-1.8 2.4-1.8 2.4-1.8M116.4 51.6l2.5-1.8 2.2-2 2.1-2.1 1.9-2.4 1.8-2.4 1.6-2.5M260.1 280l1.2 2.8 1.1 2.7 1 2.9M203.9 300.5l1 2.8 .3 3-.4 3-.9 2.8M99.6 117.7l-1.7-2.5-1.1-2.8-.4-3M57.4 37.9l2.3-2 2.3-1.9 2.3-1.9 2.3-1.9 2.3-1.9 2.4-1.9M158.2 4.9l2.9-.8 2.9-.8 2.9-.5 3-.3 3-.2M168.3 176.4l1.1 2.7 1.6 2.6M61.8 9l2.4-1.8 2.4-1.8 2.4-1.8M125.1 32.4l1.9-2.3 2-2.3 1.9-2.3 2-2.3M153.7 74.4l-2.1-2.1-1.7-2.4-1.4-2.7-1.1-2.8M185.7 297.6l3 .1 2.9 .6 2.8 1.2 2.2 2 1.1 2.8M145.3 5l2.7-1.4 2.7-1.2 2.8-1.1 2.8-1M113.4 20.2l2.5-1.7 2.4-1.7 2.5-1.8 2.5-1.7M144.9 269.2l2.9-.8 2.9-.8 2.9-.7M163.9 179.3l1.1 2.8 1.6 2.5 2 2.3M89.6 272.6l3 .1 3 .2 3 0 3 0 3 0 3-.1 3-.2M104.8 106.4l-.1-3 1.9-2.3 3-.5 2.5 1.7 .7 2.9-1.3 2.7M121.2 35.3l2.1-2.2 1.9-2.2 2-2.3 1.9-2.3M220.3 166.9l-1.1-2.8-1.5-2.6-1.7-2.4-2-2.3-2.1-2.1M153.8 49.7l-.3-3 0-3 .4-3 .8-2.9 1.1-2.8 1.4-2.6 1.8-2.4M81.4 302.7l2.5-1.8 2.7-1.2 2.8-1 2.9-.9M105.4 140.4l-1.8 2.3-1.3 2.7-.9 2.9-.7 2.9-.5 3M57.1 33.6l2.3-1.9 2.3-1.9 2.3-1.9M206 246.3l3 .2 3 .4 2.9 .6 2.9 .8M266.6 65.6l.5 2.9 .5 3 .6 2.9 .5 3 .5 2.9M76.2 304.3l1.9-2.3 2.6-1.5 2.8-1.1M140.3 225.7l3-.4 3-.3 2.9-.4M53.7 221.3l2.6 1.4 2.7 1.3 2.8 1.2 2.7 1.2 2.8 1.1 2.9 .9M303 287.3l2 2.2 1.9 2.3 1.9 2.3 1.7 2.5 1.6 2.6 1.2 2.7M271.9 223.4l1.6 2.6 1.6 2.5M237.3 170.8l.4 3 .4 3 .6 2.9 .5 3 .7 2.9 .6 2.9M139.8 75.6l2.1-2.1 .6-3 .1-3-.1-3M30.1 101.9l2.3-1.8 2.4-1.8M178 85.8l-2.8 1.2-2.8 1.1-2.7 1.2-2.7 1.3M276.3 258.6l2 2.2 2 2.2 2 2.3M221.9 189.6l2.8 1.3 2.2 2 1.9 2.3 1.7 2.5 1.5 2.6M67.8 183.3l-2.3 2-2.5 1.7-2.6 1.4-2.8 1.1M238.1 237.8l2.1 2.1 2.1 2.2 2 2.2 2 2.2M216.9 29.1l1 2.8 .9 2.9 .8 2.9 .7 2.9 .6 2.9M170.5 206.2l2.9 .6 3 .5 3 .3M6.7 297.5l2.5-1.6 2.7-1.4 2.8-1.1 2.8-1M25.1 300.9l2.5-1.8 2.6-1.4 2.8-1 2.9-.9 2.9-.6M171 189.8l2.6 1.6 2.8 1.2 2.8 .8 3 .5 3 .2 3-.2M299.1 290.2l1.6 2.5 1.5 2.6 1.3 2.7M304.4 80.6l.8 2.9 .8 2.9 .7 2.9 .7 2.9 .7 3 .7 2.9M74.4 297.4l3-.5 3-.4 2.9-.5 3-.4M106.1 107.9l-1.5-2.5 .7-3 2.4-1.7M223.8 266.6l2.5 1.6 2.4 1.9 2.2 2 2.1 2.2M68.3 100.3l2.1-2.1 2.1-2.2 2-2.2 2-2.2 2-2.2 2.1-2.2M25.2 132.7l2.3-1.9 2.5-1.8 2.5-1.6 2.5-1.5 2.7-1.4 2.7-1.3M299.6 250.5l2.6 1.4 2.8 1.3 2.7 1.2 2.8 1.1 2.9 .9M35.8 159.8l1.6-2.5 2.1-2.2 2.4-1.7 2.8-1.2M228.7 32.7l.7 2.9 .7 3 .7 2.9M37.1 94l2.4-1.9 2.3-1.9 2.3-2 2.3-1.9M150.5 185.1l1 2.8 1.3 2.7 1.7 2.5 1.9 2.3 2.2 2.1M95.8 48.8l2.5-1.5 2.6-1.6 2.6-1.5M40.6 69.7l2.2-2.1 2.2-2 2.3-2 2.2-2M157.5 -1.5l3-.8 2.9-.5 3-.5 3-.2 3-.1 3 0 3 .2M37.1 86.5l2.2-2 2.3-2 2.2-2 2.2-2 2.3-2 2.2-2M3.2 20.6l2.1-2.1 2.2-2.1 2.2-2 2.2-2.1 2.2-2M116 3.7l2.7-1.3 2.7-1.3 2.8-1.3 2.7-1.2 2.7-1.2M187 257.3l3-.4 3-.4M165.9 276.8l2.8-.8 2.9-.8 3-.7 2.9-.7 2.9-.7M265.9 96.3l.5 3 .5 2.9 .4 3M264.1 163.1l.3 3 .3 3 .3 3 .3 3 .3 3 .3 3M207.6 215.7l3 .2 2.9 .5 2.9 .8M283.4 285.8l1.3 2.7 1.2 2.8 1 2.8 1 2.8M39.9 280.9l3 .3 3 .3 3 .3 2.9 .3M161 78.1l-2.9-1-2.6-1.4-2.4-1.9-2-2.2-1.6-2.5-1.3-2.7M156.4 18.8l2.6-1.5 2.7-1.4 2.8-1.1 2.8-.8M101.5 205.8l1.7 2.5 2.4 1.7 2.8 1.1 2.9 .8 2.9 .6M244.8 244.3l2 2.3 1.9 2.2 1.9 2.3 1.9 2.4 1.9 2.3M72.5 84.9l2.1-2.1 2.2-2.1 2.2-2 2.3-1.9 2.3-1.9 2.4-1.9M182.9 273.9l2.9-.6 3-.4 3-.4 2.9-.2 3-.2M134.2 146.9l-1.8 2.4-1.9 2.4-1.8 2.3-1.8 2.5-1.7 2.4-1.6 2.5M226.3 180.5l1.8 2.4 1.5 2.6 1.4 2.7M46.1 111.2l2.7-1.4 2.6-1.4 2.7-1.4M246.5 282.3l1.2 2.7 1 2.8 .9 2.9 .8 2.9 .7 2.9 .6 3"/>
<path stroke="#000" stroke-opacity="0.36" d="M188.1 225l3-.3 3-.3 3-.2 3-.1 3-.1 3 .1M84.7 293.1l3-.2 3-.3 3-.2 2.9-.4 3-.3M88.4 182l-1.5 2.5-1.7 2.5M144 92.9l1.2 2.8 .9 2.8 .6 3 .4 2.9M49.6 74.4l2.2-2 2.2-2 2.3-2 2.2-2 2.3-2 2.2-2 2.3-2M89.9 242.6l3 .3 3 .3 3 .1 3 .1 3 .1M196.8 40.1l.3 3 0 3-.4 3-.8 2.9-1.1 2.8-1.5 2.6-1.7 2.4M297.6 135.6l.3 3 .3 3 .3 3 .2 2.9M107 238.7l3-.1 3-.1 3-.2 3-.3 3-.3 3-.4M213.4 82.1l-.1 3 0 3 0 3 0 3M195.7 242.3l3-.2 3-.1 3 0 3 .2M285.6 142.9l.3 3 .3 3 .3 3 .2 3 .3 3M170.4 185.7l2.3 1.9 2.6 1.5 2.8 1.2M0 34.1l2.1-2.1 2.2-2.1 2.2-2.1M179.4 208.6l3 .1 3 0 3-.1 3-.3 3-.3 3-.4 2.9-.4M252.3 15.5l.6 2.9 .6 2.9 .7 3 .6 2.9 .6 3 .5 2.9M61.1 167.2l-.8 2.9-1.4 2.7-2 2.2-2.4 1.7-2.8 1.2M17.3 12.8l2.3-2 2.2-1.9 2.3-2 2.2-2 2.3-1.9M92.5 181.1l-1.4 2.6-1.6 2.5-1.7 2.5-1.8 2.4M206.1 64.2l-.9 2.8-1 2.8-1.2 2.8M213.7 241.8l2.9 .7 2.8 .9 2.8 1.1 2.7 1.3M281.6 109.4l.4 2.9 .5 3 .4 3 .4 3 .4 2.9 .4 3 .4 3M31.6 202.3l-2.4-2-2.2-2-2-2.2-2-2.2M69.4 303l2.4-1.8 2.7-1.2M140.1 82.8l2.5 1.6 2.1 2.2 1.5 2.6 1.2 2.7 .9 2.9 .6 2.9M9.8 253.4l3-.2 3-.1 3 0 3 .1M300.4 45.2l.9 2.9 .9 2.8 .9 2.9M211.1 242.6l3 .6 2.9 .7 2.8 1 2.8 1.1 2.7 1.3 2.6 1.5 2.5 1.6M173.2 132.1l-2.5 1.6-2.5 1.8-2.2 2-2.2 2.1-2 2.2-1.8 2.4M204.5 83.5l-.8 2.9-.9 2.9M137.9 129.6l-1.5 2.6-1.6 2.5-1.7 2.5-1.8 2.4M-4.5 34.3l2.1-2.1 2.1-2.1 2.2-2.1 2.1-2.1 2.2-2.1 2.2-2.1M299.5 247.8l2.7 1.4 2.7 1.3 2.8 1.2 2.8 1 2.8 1 2.9 .9M90.1 283l3 .1 3 0 3-.1M273.1 208.2l1 2.8 1.2 2.8 1.3 2.7 1.4 2.6 1.5 2.6 1.7 2.5M50.2 197.5l-3-.2-2.9-.5-2.9-.9-2.8-1.1-2.7-1.4-2.5-1.6M185.2 114.9l-2.6 1.5-2.5 1.6-2.6 1.6M52 54l2.3-2 2.2-2 2.3-1.9 2.3-2 2.2-1.9M223.2 248.1l2.7 1.3 2.6 1.5 2.5 1.7 2.4 1.8 2.3 1.9 2.2 2.1M111.1 137.2l-2.5 1.7-2.3 2-1.8 2.3-1.4 2.7-1 2.8M288 17.4l.7 2.9 .8 2.9 .8 2.9 .8 2.9 .8 2.9 .8 2.9M129.8 179l-.7 2.9-.4 3-.2 3 .1 3 .5 2.9 1 2.9M52.3 128l3-.4 2.9-.3 3-.2M221.7 36.4l.8 2.9 .6 3 .6 2.9 .5 3M301.3 88.5l.7 3 .6 2.9 .6 2.9M87.7 267.4l3 .3 3 .2 3 .1 3 .1M208.8 29.3l1.2 2.7 1 2.9 .8 2.8M133 67.5l2.1-2.1 1.3-2.7 .9-2.9M22.8 133.4l2.2-2.1 2.3-1.9 2.4-1.8 2.5-1.6 2.6-1.5M200 125.5l-2.9 .4-3 .5-3 .5-2.9 .6-2.9 .7-2.9 .8M180 229.9l3-.4 2.9-.4 3-.3 3-.3M142.8 156.8l-1.7 2.5-1.4 2.6M233 210l1.7 2.5 1.6 2.5 1.7 2.5 1.6 2.5 1.7 2.4 1.7 2.5M240.8 124l.3 3 .3 3 .2 3 .2 2.9 .2 3M168.8 250.9l2.9-.6 3-.7 2.9-.6 2.9-.6 3-.5 3-.5M54.1 96.5l2.4-1.9 2.3-1.9 2.2-2M103.6 233.5l3 .1 3-.1M22.3 101.2l2.2-2 2.3-2 2.3-1.9M81.1 48.7l2.5-1.7 2.4-1.8 2.5-1.7 2.5-1.7M211.6 230.3l2.9 .6 2.9 .8 2.8 1.1M291.7 146l.3 2.9 .2 3 .3 3 .2 3 .3 3 .2 3M31.8 178.5l-1.5-2.5-1.2-2.8-.8-2.9-.5-2.9 0-3M243.2 196.5l.8 2.9 .9 2.9 .9 2.8 1 2.8 1.1 2.8M88.7 168.5l-.8 2.9-.9 2.9-1.1 2.8-1.3 2.7-1.5 2.6M185 8.7l2.8 1 2.8 1.2 2.6 1.4 2.6 1.6 2.4 1.8M33.1 133.3l2.5-1.6 2.7-1.3 2.8-1.2 2.8-1M98.4 233.6l3 .2 3 .1 3 0 3 0 3-.1M295.8 148l.3 3 .2 3 .3 3 .2 3M93.3 288.4l3-.2 3-.2M92.3 168.7l-.8 2.9-.9 2.8-1.2 2.8M187.6 157.3l-3-.2-3 .3-2.8 1-2.5 1.6-2.2 2.1M141.9 156.5l-1.7 2.5-1.4 2.6-1.4 2.7M164.9 301.1l2.5-1.6 2.7-1.4 2.8-1.1 2.8-.9M128 64.1l2.4-1.9 1.8-2.3 1.4-2.7 1.1-2.8 .9-2.8 .9-2.9 .8-2.9M101 8.8l2.6-1.4 2.7-1.3 2.7-1.3 2.7-1.3 2.8-1.2 2.7-1.3M127.5 157.9l-1.6 2.5-1.6 2.6-1.5 2.5-1.4 2.7-1.4 2.6-1.4 2.7M22.7 40.9l2.3-2.1 2.2-2 2.2-2 2.2-2M198.8 141.1l-2.9-.6-3-.4-3-.1-3 .1-2.9 .4M6.4 181.5l-.8-2.9-.6-3-.5-2.9-.3-3M103.4 34.9l2.5-1.6 2.5-1.7 2.4-1.7 2.5-1.8 2.3-1.8 2.4-1.9M230.5 61.8l.4 3 .5 3 .4 2.9 .5 3 .5 3M47.7 106.3l2.6-1.5 2.5-1.6 2.5-1.7 2.4-1.8 2.4-1.8M270.7 3.2l.7 2.9 .6 2.9 .6 3 .7 2.9 .6 2.9M133.5 38l1.4-2.6 1.5-2.7 1.6-2.5 1.6-2.5M109.2 299.7l2.7-1.5 2.7-1.3 2.8-1.1M268.7 206l.9 2.8 1 2.9 1.1 2.7M107.2 254.1l3-.1 3-.1 3-.3 3-.3 3-.3 3-.4 2.9-.5M72.4 98.8l2-2.2 1.9-2.3 2-2.2M138.9 162.7l-1.3 2.7-1.1 2.8-1 2.8M187.2 35.5l1.2 2.7 .7 2.9 0 3-.6 2.9-1.2 2.8-1.7 2.4M210 19.6l1.6 2.6 1.4 2.6 1.3 2.8 1.1 2.7M268.4 86.6l.5 2.9 .5 3M193.8 97l-1.6 2.5-1.7 2.5-1.9 2.3M212.7 50.3l0 3-.1 3-.1 3-.3 3M185.8 234.9l3-.4 3-.3M14.7 212.3l0-3-.7-2.9-.9-2.9-1.1-2.7-1.2-2.8-1.2-2.8-1.1-2.7M67.1 231.6l2.9 .8 2.9 .8 2.9 .7 2.9 .7 3 .6 2.9 .5M294.5 211.2l1.7 2.4 2 2.3 2.1 2.1M198.2 204.4l3-.6 2.9-.6 2.9-.7 3-.5 3-.4 3 0M57.9 237.8l2.9 .7 2.9 .7 3 .6 2.9 .7 2.9 .6M189.1 147.6l-3-.1-3 .3-2.9 .7-2.8 1M78.4 78.5l2.2-2 2.3-1.9 2.4-1.8 2.5-1.8M269.9 237.5l1.9 2.3 1.9 2.3 1.9 2.3 2.1 2.2 2 2.2 2.2 2.1M32.7 45.6l2.3-2 2.2-2 2.2-2 2.3-2 2.2-2M180.8 45.5l-2.2 2-3 .7-2.9-.8-2.2-2-1-2.8M82.5 89.4l2.1-2.2 2.2-2 2.3-2 2.4-1.8 2.5-1.7M153.1 109.1l-.6 2.9-.7 2.9-.8 2.9-1 2.8M280.5 298.2l.6 3 .5 3 .4 2.9 .2 3 .2 3 .1 3M80.4 206.6l-1.4 2.7-.7 2.9 .7 3 1.9 2.3M86.5 270.6l3 .3 3 .2 3 .1 3 .1 3 0 3-.1M29.6 237.7l3 .2 2.9 .2 3 .3 3 .4M59.9 68l2.3-2 2.2-2 2.3-1.9 2.3-2 2.3-1.9M246.9 166.2l.3 3 .3 3M226.5 253.3l2.5 1.6 2.5 1.7 2.3 1.9 2.3 2 2.1 2.1 2.1 2.2M120.4 33.7l2.1-2.2 2.1-2.2 2-2.2 2-2.2 2-2.2M294.9 196.8l.9 2.9 1.1 2.8 1.4 2.6 1.5 2.6 1.8 2.4 2 2.2M127.9 151.9l-1.9 2.3-1.8 2.4-1.7 2.5-1.6 2.5-1.5 2.6-1.5 2.6M85.7 77.1l2.4-1.8 2.4-1.7 2.6-1.6M225.5 204.7l2.2 2.1 1.9 2.3 1.9 2.3 1.8 2.4 1.8 2.5M234.7 270.6l1.9 2.3 1.8 2.4 1.7 2.5 1.5 2.6 1.4 2.6 1.2 2.8 1 2.8M87.9 271.6l3 .2 3 .2 3 .1M47 7.3l2.3-1.9 2.3-1.9 2.4-1.8 2.4-1.9 2.4-1.8 2.4-1.7M289.4 121.8l.4 2.9 .4 3 .4 3 .3 3 .4 2.9 .3 3M150.8 212.4l3 .6 2.9 .5 3 .4 3 .4 3 .3M76.4 10.8l2.5-1.7 2.5-1.7M236.7 122.8l.2 3 .2 3 .2 3M136.6 72.4l2.2-2.1 1.1-2.7M99.6 187.2l-1.5 2.6-1.6 2.5-1.6 2.6-1.6 2.5-1.6 2.6-1.4 2.6M168.3 8.1l3-.4 3-.1 3 .1 3 .3 2.9 .6 2.9 .8M173.5 141.9l-2.5 1.6-2.4 1.8-2.2 2.1-2 2.2M196.1 -1.7l2.6 1.5 2.6 1.6 2.4 1.8 2.2 1.9 2.2 2.2 2 2.2M81.2 239.9l3 .5 3 .4 2.9 .4 3 .3 3 .3 3 .1 3 .1M218.5 160.5l-1.9-2.2-2.1-2.2-2.2-2.1-2.3-1.9-2.4-1.8-2.5-1.6M28 279.5l3 .1 3 .1 3 .2 3 .2M130.6 208.6l2.9 .8 2.9 .7 2.9 .6M25.7 14.3l2.3-2 2.3-2 2.2-1.9 2.3-2 2.3-1.9 2.3-1.9M220.9 274.8l2.4 1.7 2.3 2 2 2.2 1.8 2.4 1.6 2.5M256.4 92.8l.5 2.9 .4 3 .5 3M.3 244.2l2.9-.5 3-.3 3-.4 3-.2 3-.2M31.9 263.1l2.9 .3 3 .4 3 .4 3 .4M67.3 300.3l2.8-1 2.9-.8 2.9-.6 3-.6M196.5 297.6l2.5 1.7 1.7 2.4 .8 2.9M76.2 118.9l2.3-1.9 2-2.2M123.1 113.7l-1.4 2.6-1.8 2.4M302.8 218.4l2.4 1.9 2.5 1.6 2.6 1.5M226.2 123.4l-.2 3-.3 2.9-.6 3M204 149.9l-2.6-1.5-2.7-1.2-2.8-1-2.9-.7-3-.4M281.1 181.6l.4 2.9 .4 3 .4 3 .6 2.9 .6 3 .7 2.9M1 202.9l-.3-3-.6-2.9-.7-2.9M98.3 100l1.9-2.3 2.2-2 2.7-1.4 2.9-.7 3 .1M176.2 276.6l2.9-.6 2.9-.6 3-.6 3-.4 2.9-.4M283.6 259.3l2.2 2.1 2.2 2 2.2 2 2.3 1.9M247.4 136.7l.2 3 .3 3M244.6 -2.9l.7 2.9 .7 2.9 .7 2.9M211.8 240l2.9 .6 2.9 .8 2.8 1 2.8 1.2 2.7 1.4 2.5 1.5M195 89l-1.7 2.5-1.8 2.4-1.7 2.4-1.9 2.4M234.7 300.6l.5 3 .3 2.9 .3 3 .1 3 .1 3 0 3M153.7 186.8l1.4 2.7 1.6 2.5M300.8 144.6l.2 3 .3 3 .2 3 .2 3M44.1 20.6l2.3-1.9 2.3-1.9 2.3-1.9 2.3-2M23.4 235.5l3-.1 3 0 3 .1M226.1 72.4l.4 3 .4 2.9 .4 3 .4 3 .5 2.9 .4 3M93 52.2l2.5-1.6 2.6-1.5 2.6-1.5 2.6-1.5 2.6-1.6M136.1 285l2.8-.8 2.9-.9 2.9-.9 2.9-.8 2.8-.9M167.6 208.1l2.9 .6 3 .5 3 .3 3 .2 3 .1 3 0M218.9 46.8l.4 3 .3 3 .3 3 .2 2.9M121 134.8l-2.3 1.8-2.4 1.9-2.4 1.8-2.3 2-2 2.1-1.8 2.4M253.3 69.3l.5 3 .5 2.9 .5 3 .5 3 .5 2.9 .5 3M154.4 154.3l-1.6 2.5-1.5 2.7-1.3 2.6-1.1 2.8M274.9 230.5l1.9 2.3 1.9 2.4 2 2.2 2 2.2 2.2 2 2.2 2M96.9 13.1l2.7-1.5 2.6-1.4 2.6-1.4 2.7-1.4 2.7-1.3 2.7-1.3 2.7-1.3M210.4 98l-.1 3-.3 3-.4 2.9-.7 3-1.1 2.8M303.9 302.8l.6 2.9 .3 3 0 3-.2 3-.3 3-.5 3M299.2 249l2.7 1.4 2.7 1.3 2.7 1.2 2.8 1.1 2.9 1 2.8 .8 2.9 .8M212.9 238.5l2.9 .7 2.9 .9M109.8 226.1l3-.1 3-.1 3-.2 3-.2M125.3 29.4l2-2.3 2-2.2 2-2.2 2.1-2.2 2.1-2.1M96 68.6l2.7-1.3 2.7-1.3"/>
</g>
<filter id="sb" filterUnits="userSpaceOnUse" x="-10" y="-10" width="320" height="320"><feGaussianBlur stdDeviation="0.9"/></filter>
</defs>
<rect width="2070" height="1926" fill="#fff"/>
<g id="chart">
<rect x="543.3" y="16.4" width="1114.7" height="831.8" fill="#fff" stroke="#000" stroke-width="3"/>
<path d="M653.9 848.2v-12M653.9 16.4v12M765.3 848.2v-12M765.3 16.4v12M876.6 848.2v-12M876.6 16.4v12M988.0 848.2v-12M988.0 16.4v12M1099.3 848.2v-12M1099.3 16.4v12M1210.6 848.2v-12M1210.6 16.4v12M1322.0 848.2v-12M1322.0 16.4v12M1433.3 848.2v-12M1433.3 16.4v12M1544.7 848.2v-12M1544.7 16.4v12M543.3 764.2h10.5M1658.0 764.2h-13.5M543.3 681.6h10.5M1658.0 681.6h-13.5M543.3 598.9h10.5M1658.0 598.9h-13.5M543.3 514.4h10.5M1658.0 514.4h-13.5M543.3 431.5h10.5M1658.0 431.5h-13.5M543.3 349.6h10.5M1658.0 349.6h-13.5M543.3 262.3h10.5M1658.0 262.3h-13.5M543.3 180.3h10.5M1658.0 180.3h-13.5M543.3 97.5h10.5M1658.0 97.5h-13.5" stroke="#000" stroke-width="2.6" fill="none"/>
<text class="s" transform="translate(531.20 860.70) scale(0.8440 1)" font-size="38.4" text-anchor="end">0</text>
<text class="s" transform="translate(531.20 776.80) scale(0.8440 1)" font-size="38.4" text-anchor="end">0.005</text>
<text class="s" transform="translate(531.20 694.20) scale(0.8440 1)" font-size="38.4" text-anchor="end">0.01</text>
<text class="s" transform="translate(531.20 611.50) scale(0.8440 1)" font-size="38.4" text-anchor="end">0.015</text>
<text class="s" transform="translate(531.20 527.00) scale(0.8440 1)" font-size="38.4" text-anchor="end">0.02</text>
<text class="s" transform="translate(531.20 444.10) scale(0.8440 1)" font-size="38.4" text-anchor="end">0.025</text>
<text class="s" transform="translate(531.20 362.20) scale(0.8440 1)" font-size="38.4" text-anchor="end">0.03</text>
<text class="s" transform="translate(531.20 274.90) scale(0.8440 1)" font-size="38.4" text-anchor="end">0.035</text>
<text class="s" transform="translate(531.20 192.90) scale(0.8440 1)" font-size="38.4" text-anchor="end">0.04</text>
<text class="s" transform="translate(531.20 110.10) scale(0.8440 1)" font-size="38.4" text-anchor="end">0.045</text>
<text class="s" transform="translate(531.20 28.80) scale(0.8440 1)" font-size="38.4" text-anchor="end">0.05</text>
<text class="s" transform="translate(542.60 889.30) scale(0.8440 1)" font-size="38.4" text-anchor="middle">0</text>
<text class="s" transform="translate(653.94 889.30) scale(0.8440 1)" font-size="38.4" text-anchor="middle">0.02</text>
<text class="s" transform="translate(765.28 889.30) scale(0.8440 1)" font-size="38.4" text-anchor="middle">0.04</text>
<text class="s" transform="translate(876.62 889.30) scale(0.8440 1)" font-size="38.4" text-anchor="middle">0.06</text>
<text class="s" transform="translate(987.96 889.30) scale(0.8440 1)" font-size="38.4" text-anchor="middle">0.08</text>
<text class="s" transform="translate(1099.30 889.30) scale(0.8440 1)" font-size="38.4" text-anchor="middle">0.1</text>
<text class="s" transform="translate(1210.64 889.30) scale(0.8440 1)" font-size="38.4" text-anchor="middle">0.12</text>
<text class="s" transform="translate(1321.98 889.30) scale(0.8440 1)" font-size="38.4" text-anchor="middle">0.14</text>
<text class="s" transform="translate(1433.32 889.30) scale(0.8440 1)" font-size="38.4" text-anchor="middle">0.16</text>
<text class="s" transform="translate(1544.66 889.30) scale(0.8440 1)" font-size="38.4" text-anchor="middle">0.18</text>
<text class="s" transform="translate(1656.00 889.30) scale(0.8440 1)" font-size="38.4" text-anchor="middle">0.2</text>
<polyline points="598.3,835.5 653.9,821.0 709.6,811.0 765.3,803.0 821.0,794.0 876.6,791.5 932.3,780.6 988.0,772.9 1043.6,765.8 1099.3,761.3 1155.0,752.8 1210.6,745.4 1266.3,740.5 1322.0,730.6 1377.7,720.0 1433.3,571.5 1489.0,547.5 1544.7,229.6 1600.3,34.2" fill="none" stroke="#f00" stroke-width="5" stroke-linejoin="round"/>
<circle cx="598.3" cy="835.5" r="8.7" fill="none" stroke="#f00" stroke-width="5"/>
<circle cx="653.9" cy="821.0" r="8.7" fill="none" stroke="#f00" stroke-width="5"/>
<circle cx="709.6" cy="811.0" r="8.7" fill="none" stroke="#f00" stroke-width="5"/>
<circle cx="765.3" cy="803.0" r="8.7" fill="none" stroke="#f00" stroke-width="5"/>
<circle cx="821.0" cy="794.0" r="8.7" fill="none" stroke="#f00" stroke-width="5"/>
<circle cx="876.6" cy="791.5" r="8.7" fill="none" stroke="#f00" stroke-width="5"/>
<circle cx="932.3" cy="780.6" r="8.7" fill="none" stroke="#f00" stroke-width="5"/>
<circle cx="988.0" cy="772.9" r="8.7" fill="none" stroke="#f00" stroke-width="5"/>
<circle cx="1043.6" cy="765.8" r="8.7" fill="none" stroke="#f00" stroke-width="5"/>
<circle cx="1099.3" cy="761.3" r="8.7" fill="none" stroke="#f00" stroke-width="5"/>
<circle cx="1155.0" cy="752.8" r="8.7" fill="none" stroke="#f00" stroke-width="5"/>
<circle cx="1210.6" cy="745.4" r="8.7" fill="none" stroke="#f00" stroke-width="5"/>
<circle cx="1266.3" cy="740.5" r="8.7" fill="none" stroke="#f00" stroke-width="5"/>
<circle cx="1322.0" cy="730.6" r="8.7" fill="none" stroke="#f00" stroke-width="5"/>
<circle cx="1377.7" cy="720.0" r="8.7" fill="none" stroke="#f00" stroke-width="5"/>
<circle cx="1433.3" cy="571.5" r="8.7" fill="none" stroke="#f00" stroke-width="5"/>
<circle cx="1489.0" cy="547.5" r="8.7" fill="none" stroke="#f00" stroke-width="5"/>
<circle cx="1544.7" cy="229.6" r="8.7" fill="none" stroke="#f00" stroke-width="5"/>
<circle cx="1600.3" cy="34.2" r="8.7" fill="none" stroke="#f00" stroke-width="5"/>
<polyline points="598.3,838.5 653.9,831.0 709.6,822.0 765.3,815.2 821.0,809.5 876.6,802.3 932.3,795.2 988.0,792.3 1043.6,788.0 1099.3,782.7 1155.0,775.4 1210.6,770.0 1266.3,767.6 1322.0,762.3 1377.7,757.0 1433.3,738.7 1489.0,735.9 1544.7,725.4 1600.3,710.2" fill="none" stroke="#00f" stroke-width="5" stroke-linejoin="round"/>
<circle cx="598.3" cy="838.5" r="8.7" fill="none" stroke="#00f" stroke-width="5"/>
<circle cx="653.9" cy="831.0" r="8.7" fill="none" stroke="#00f" stroke-width="5"/>
<circle cx="709.6" cy="822.0" r="8.7" fill="none" stroke="#00f" stroke-width="5"/>
<circle cx="765.3" cy="815.2" r="8.7" fill="none" stroke="#00f" stroke-width="5"/>
<circle cx="821.0" cy="809.5" r="8.7" fill="none" stroke="#00f" stroke-width="5"/>
<circle cx="876.6" cy="802.3" r="8.7" fill="none" stroke="#00f" stroke-width="5"/>
<circle cx="932.3" cy="795.2" r="8.7" fill="none" stroke="#00f" stroke-width="5"/>
<circle cx="988.0" cy="792.3" r="8.7" fill="none" stroke="#00f" stroke-width="5"/>
<circle cx="1043.6" cy="788.0" r="8.7" fill="none" stroke="#00f" stroke-width="5"/>
<circle cx="1099.3" cy="782.7" r="8.7" fill="none" stroke="#00f" stroke-width="5"/>
<circle cx="1155.0" cy="775.4" r="8.7" fill="none" stroke="#00f" stroke-width="5"/>
<circle cx="1210.6" cy="770.0" r="8.7" fill="none" stroke="#00f" stroke-width="5"/>
<circle cx="1266.3" cy="767.6" r="8.7" fill="none" stroke="#00f" stroke-width="5"/>
<circle cx="1322.0" cy="762.3" r="8.7" fill="none" stroke="#00f" stroke-width="5"/>
<circle cx="1377.7" cy="757.0" r="8.7" fill="none" stroke="#00f" stroke-width="5"/>
<circle cx="1433.3" cy="738.7" r="8.7" fill="none" stroke="#00f" stroke-width="5"/>
<circle cx="1489.0" cy="735.9" r="8.7" fill="none" stroke="#00f" stroke-width="5"/>
<circle cx="1544.7" cy="725.4" r="8.7" fill="none" stroke="#00f" stroke-width="5"/>
<circle cx="1600.3" cy="710.2" r="8.7" fill="none" stroke="#00f" stroke-width="5"/>
<rect x="561.1" y="34.7" width="395" height="107.2" fill="#fff" stroke="#000" stroke-width="2.8"/>
<path d="M580.6 61.2H682.7" stroke="#f00" stroke-width="5"/>
<circle cx="632.7" cy="61.2" r="8.7" fill="none" stroke="#f00" stroke-width="5"/>
<text class="s" transform="translate(693.00 75.70) scale(0.9600 1)" font-size="33.5" text-anchor="start">two-wavelength</text>
<path d="M580.6 110.3H682.7" stroke="#00f" stroke-width="5"/>
<circle cx="632.7" cy="110.3" r="8.7" fill="none" stroke="#00f" stroke-width="5"/>
<text class="s" transform="translate(693.00 124.80) scale(0.9600 1)" font-size="33.5" text-anchor="start">three-wavelength</text>
<text class="t" transform="translate(1095.20 942.60) scale(0.9700 1)" font-size="48" text-anchor="middle">Additive noise</text>
<text class="t" transform="translate(424.30 430.50) rotate(-90)" font-size="49.6" text-anchor="middle">RMSE (rad)</text>
<text class="t" transform="translate(1096.70 996.00) scale(0.9500 1)" font-size="48" text-anchor="middle">(a)</text>
</g>
<g id="pb" class="pn">
<rect x="54.7" y="1036.3" width="337.0" height="333.7" fill="#2a9bf0"/>
<svg x="54.7" y="1036.3" width="337.0" height="333.7" viewBox="0 0 300 300" preserveAspectRatio="none">
<g filter="url(#fb)">
<rect x="-60" y="-60" width="420" height="420" fill="#494949"/>
<g filter="url(#bb)">
<rect x="-60" y="-60" width="420" height="420" fill="#494949"/>
<ellipse cx="247" cy="105" rx="26" ry="100" fill="#585858"/>
<ellipse cx="100" cy="237" rx="112" ry="32" fill="#585858"/>
<ellipse cx="12" cy="180" rx="14" ry="62" fill="#555555"/>
<ellipse cx="250" cy="18" rx="40" ry="14" fill="#585858"/>
<ellipse cx="135" cy="120" rx="85" ry="85" fill="#444444"/>
<ellipse cx="176" cy="41" rx="25" ry="25" fill="#333333"/>
<ellipse cx="85" cy="82" rx="54" ry="25" fill="#333333" transform="rotate(37 85 82)"/>
<ellipse cx="105" cy="119" rx="10" ry="10" fill="#3b3b3b"/>
<ellipse cx="187" cy="118" rx="16" ry="40" fill="#323232"/>
<ellipse cx="148" cy="180" rx="66" ry="25" fill="#2f2f2f"/>
<ellipse cx="183" cy="170" rx="31" ry="31" fill="#303030"/>
<ellipse cx="47" cy="166" rx="28" ry="28" fill="#333333"/>
<ellipse cx="273" cy="255" rx="36" ry="48" fill="#474747"/>
<ellipse cx="295" cy="125" rx="9" ry="40" fill="#404040"/>
<ellipse cx="175" cy="297" rx="60" ry="9" fill="#383838"/>
</g>
<g filter="url(#sb)" opacity="0.65"><use href="#stk"/></g>
</g></svg>
<rect x="54.7" y="1036.3" width="337.0" height="333.7" fill="none" stroke="#000" stroke-width="2.6"/>
<path d="M166.5 1370.0v5M166.5 1036.3v-5M278.8 1370.0v5M278.8 1036.3v-5M391.1 1370.0v5M391.1 1036.3v-5M54.7 1091.4h-6M391.7 1091.4h4M54.7 1147.0h-6M391.7 1147.0h4M54.7 1202.6h-6M391.7 1202.6h4M54.7 1258.2h-6M391.7 1258.2h4M54.7 1313.8h-6M391.7 1313.8h4M54.7 1369.4h-6M391.7 1369.4h4" stroke="#000" stroke-width="2" fill="none"/>
<text class="s" transform="translate(41.30 1099.96) scale(0.9200 1)" font-size="25.6" text-anchor="end">50</text>
<text class="s" transform="translate(41.30 1155.58) scale(0.9200 1)" font-size="25.6" text-anchor="end">100</text>
<text class="s" transform="translate(41.30 1211.19) scale(0.9200 1)" font-size="25.6" text-anchor="end">150</text>
<text class="s" transform="translate(41.30 1266.81) scale(0.9200 1)" font-size="25.6" text-anchor="end">200</text>
<text class="s" transform="translate(41.30 1322.43) scale(0.9200 1)" font-size="25.6" text-anchor="end">250</text>
<text class="s" transform="translate(41.30 1378.04) scale(0.9200 1)" font-size="25.6" text-anchor="end">300</text>
<text class="s" transform="translate(166.40 1404.50) scale(0.9300 1)" font-size="25.6" text-anchor="middle">100</text>
<text class="s" transform="translate(277.00 1404.50) scale(0.9300 1)" font-size="25.6" text-anchor="middle">200</text>
<text class="s" transform="translate(389.50 1404.50) scale(0.9300 1)" font-size="25.6" text-anchor="middle">300</text>
<rect x="422.3" y="1116.1" width="11.1" height="254.9" fill="url(#jet)" stroke="#101018" stroke-width="1.4"/>
<text class="s" transform="translate(435.80 1130.50) scale(0.9300 1)" font-size="25.6" text-anchor="start">0.1</text>
<path d="M430.2 1121.5h3.2M422.3 1121.5h3.2" stroke="#000" stroke-width="1.5"/>
<text class="s" transform="translate(435.80 1213.50) scale(0.9300 1)" font-size="25.6" text-anchor="start">0.05</text>
<path d="M430.2 1204.5h3.2M422.3 1204.5h3.2" stroke="#000" stroke-width="1.5"/>
<text class="s" transform="translate(435.80 1298.50) scale(0.9300 1)" font-size="25.6" text-anchor="start">0</text>
<path d="M430.2 1289.5h3.2M422.3 1289.5h3.2" stroke="#000" stroke-width="1.5"/>
<text class="t" transform="translate(409.20 1078.90) scale(0.8400 1)" font-size="34" text-anchor="start" font-weight="bold">rad</text>
<text class="s" transform="translate(219.00 1447.00) scale(1.0800 1)" font-size="36.5" text-anchor="middle">(b)</text>
</g>
<g id="pc" class="pn">
<rect x="587.0" y="1039.2" width="332.8" height="328.5" fill="#2a9bf0"/>
<svg x="587.0" y="1039.2" width="332.8" height="328.5" viewBox="0 0 300 300" preserveAspectRatio="none">
<g filter="url(#fc)">
<rect x="-60" y="-60" width="420" height="420" fill="#494949"/>
<g filter="url(#bc)">
<rect x="-60" y="-60" width="420" height="420" fill="#494949"/>
<ellipse cx="250" cy="110" rx="28" ry="102" fill="#585858"/>
<ellipse cx="102" cy="237" rx="112" ry="34" fill="#585858"/>
<ellipse cx="12" cy="215" rx="14" ry="70" fill="#585858"/>
<ellipse cx="250" cy="18" rx="40" ry="14" fill="#555555"/>
<ellipse cx="135" cy="120" rx="85" ry="85" fill="#444444"/>
<ellipse cx="178" cy="43" rx="26" ry="26" fill="#333333"/>
<ellipse cx="81" cy="81" rx="58" ry="29" fill="#333333" transform="rotate(35 81 81)"/>
<ellipse cx="105" cy="119" rx="10" ry="10" fill="#3b3b3b"/>
<ellipse cx="189" cy="117" rx="16" ry="40" fill="#323232"/>
<ellipse cx="150" cy="178" rx="66" ry="24" fill="#2f2f2f"/>
<ellipse cx="182" cy="170" rx="31" ry="31" fill="#303030"/>
<ellipse cx="44" cy="165" rx="29" ry="29" fill="#323232"/>
<ellipse cx="262" cy="262" rx="38" ry="38" fill="#474747"/>
<ellipse cx="295" cy="140" rx="9" ry="48" fill="#3d3d3d"/>
<ellipse cx="152" cy="296" rx="48" ry="9" fill="#363636"/>
</g>
<g filter="url(#sb)" opacity="0.65"><use href="#stk"/></g>
</g></svg>
<rect x="587.0" y="1039.2" width="332.8" height="328.5" fill="none" stroke="#000" stroke-width="2.0"/>
<path d="M697.4 1367.7v5M697.4 1039.2v-5M808.3 1367.7v5M808.3 1039.2v-5M919.2 1367.7v5M919.2 1039.2v-5M587.0 1093.4h-6M919.8 1093.4h4M587.0 1148.2h-6M919.8 1148.2h4M587.0 1202.9h-6M919.8 1202.9h4M587.0 1257.7h-6M919.8 1257.7h4M587.0 1312.4h-6M919.8 1312.4h4M587.0 1367.2h-6M919.8 1367.2h4" stroke="#000" stroke-width="2" fill="none"/>
<text class="s" transform="translate(573.60 1102.00) scale(0.9200 1)" font-size="25.6" text-anchor="end">50</text>
<text class="s" transform="translate(573.60 1156.75) scale(0.9200 1)" font-size="25.6" text-anchor="end">100</text>
<text class="s" transform="translate(573.60 1211.50) scale(0.9200 1)" font-size="25.6" text-anchor="end">150</text>
<text class="s" transform="translate(573.60 1266.25) scale(0.9200 1)" font-size="25.6" text-anchor="end">200</text>
<text class="s" transform="translate(573.60 1321.00) scale(0.9200 1)" font-size="25.6" text-anchor="end">250</text>
<text class="s" transform="translate(573.60 1375.75) scale(0.9200 1)" font-size="25.6" text-anchor="end">300</text>
<text class="s" transform="translate(697.90 1402.20) scale(0.9300 1)" font-size="25.6" text-anchor="middle">100</text>
<text class="s" transform="translate(807.00 1402.20) scale(0.9300 1)" font-size="25.6" text-anchor="middle">200</text>
<text class="s" transform="translate(916.80 1402.20) scale(0.9300 1)" font-size="25.6" text-anchor="middle">300</text>
<rect x="948.5" y="1117.2" width="10.4" height="253.8" fill="url(#jet)" stroke="#101018" stroke-width="1.4"/>
<text class="s" transform="translate(961.30 1148.50) scale(0.9300 1)" font-size="25.6" text-anchor="start">0.1</text>
<path d="M955.7 1139.5h3.2M948.5 1139.5h3.2" stroke="#000" stroke-width="1.5"/>
<text class="s" transform="translate(961.30 1227.50) scale(0.9300 1)" font-size="25.6" text-anchor="start">0.05</text>
<path d="M955.7 1218.5h3.2M948.5 1218.5h3.2" stroke="#000" stroke-width="1.5"/>
<text class="s" transform="translate(961.30 1305.40) scale(0.9300 1)" font-size="25.6" text-anchor="start">0</text>
<path d="M955.7 1296.4h3.2M948.5 1296.4h3.2" stroke="#000" stroke-width="1.5"/>
<text class="t" transform="translate(937.20 1081.90) scale(0.8400 1)" font-size="34" text-anchor="start" font-weight="bold">rad</text>
<text class="s" transform="translate(751.00 1444.00) scale(1.0800 1)" font-size="36.5" text-anchor="middle">(c)</text>
</g>
<g id="pd" class="pn">
<rect x="1118.9" y="1039.5" width="332.2" height="328.1" fill="#0a14e6"/>
<svg x="1118.9" y="1039.5" width="332.2" height="328.1" viewBox="0 0 300 300" preserveAspectRatio="none">
<g filter="url(#fd)">
<rect x="-60" y="-60" width="420" height="420" fill="#1c1c1c"/>
<g filter="url(#bd)">
<rect x="-60" y="-60" width="420" height="420" fill="#1c1c1c"/>
<ellipse cx="125" cy="120" rx="85" ry="85" fill="#111111"/>
<ellipse cx="106" cy="93" rx="42" ry="26" fill="#0a0a0a" transform="rotate(35 106 93)"/>
<ellipse cx="189" cy="117" rx="18" ry="40" fill="#0a0a0a"/>
<ellipse cx="130" cy="181" rx="50" ry="16" fill="#0a0a0a"/>
<ellipse cx="248" cy="113" rx="14" ry="110" fill="#282828"/>
<ellipse cx="262" cy="22" rx="24" ry="20" fill="#2b2b2b"/>
<ellipse cx="252" cy="150" rx="8" ry="30" fill="#303030"/>
<ellipse cx="130" cy="234" rx="108" ry="12" fill="#262626"/>
<ellipse cx="20" cy="230" rx="14" ry="66" fill="#242424"/>
<ellipse cx="30" cy="275" rx="20" ry="16" fill="#2b2b2b"/>
</g>
</g></svg>
<rect x="1118.9" y="1039.5" width="332.2" height="328.1" fill="none" stroke="#000" stroke-width="2.0"/>
<path d="M1229.1 1367.6v5M1229.1 1039.5v-5M1339.8 1367.6v5M1339.8 1039.5v-5M1450.5 1367.6v5M1450.5 1039.5v-5M1118.9 1093.6h-6M1451.1 1093.6h4M1118.9 1148.3h-6M1451.1 1148.3h4M1118.9 1203.0h-6M1451.1 1203.0h4M1118.9 1257.7h-6M1451.1 1257.7h4M1118.9 1312.4h-6M1451.1 1312.4h4M1118.9 1367.1h-6M1451.1 1367.1h4" stroke="#000" stroke-width="2" fill="none"/>
<text class="s" transform="translate(1105.50 1102.24) scale(0.9200 1)" font-size="25.6" text-anchor="end">50</text>
<text class="s" transform="translate(1105.50 1156.92) scale(0.9200 1)" font-size="25.6" text-anchor="end">100</text>
<text class="s" transform="translate(1105.50 1211.60) scale(0.9200 1)" font-size="25.6" text-anchor="end">150</text>
<text class="s" transform="translate(1105.50 1266.29) scale(0.9200 1)" font-size="25.6" text-anchor="end">200</text>
<text class="s" transform="translate(1105.50 1320.97) scale(0.9200 1)" font-size="25.6" text-anchor="end">250</text>
<text class="s" transform="translate(1105.50 1375.65) scale(0.9200 1)" font-size="25.6" text-anchor="end">300</text>
<text class="s" transform="translate(1228.90 1402.10) scale(0.9300 1)" font-size="25.6" text-anchor="middle">100</text>
<text class="s" transform="translate(1338.20 1402.10) scale(0.9300 1)" font-size="25.6" text-anchor="middle">200</text>
<text class="s" transform="translate(1446.70 1402.10) scale(0.9300 1)" font-size="25.6" text-anchor="middle">300</text>
<rect x="1478.1" y="1110.2" width="9.7" height="258.8" fill="url(#jet)" stroke="#101018" stroke-width="1.4"/>
<text class="s" transform="translate(1490.20 1138.00) scale(0.9300 1)" font-size="25.6" text-anchor="start">0.8</text>
<path d="M1484.6 1129.0h3.2M1478.1 1129.0h3.2" stroke="#000" stroke-width="1.5"/>
<text class="s" transform="translate(1490.20 1191.60) scale(0.9300 1)" font-size="25.6" text-anchor="start">0.6</text>
<path d="M1484.6 1182.6h3.2M1478.1 1182.6h3.2" stroke="#000" stroke-width="1.5"/>
<text class="s" transform="translate(1490.20 1245.30) scale(0.9300 1)" font-size="25.6" text-anchor="start">0.4</text>
<path d="M1484.6 1236.3h3.2M1478.1 1236.3h3.2" stroke="#000" stroke-width="1.5"/>
<text class="s" transform="translate(1490.20 1302.30) scale(0.9300 1)" font-size="25.6" text-anchor="start">0.2</text>
<path d="M1484.6 1293.3h3.2M1478.1 1293.3h3.2" stroke="#000" stroke-width="1.5"/>
<text class="s" transform="translate(1490.20 1354.60) scale(0.9300 1)" font-size="25.6" text-anchor="start">0</text>
<path d="M1484.6 1345.6h3.2M1478.1 1345.6h3.2" stroke="#000" stroke-width="1.5"/>
<text class="t" transform="translate(1469.00 1080.00) scale(0.8400 1)" font-size="34" text-anchor="start" font-weight="bold">rad</text>
<text class="s" transform="translate(1280.00 1444.00) scale(1.0800 1)" font-size="36.5" text-anchor="middle">(d)</text>
</g>
<g id="pe" class="pn">
<rect x="1641.5" y="1039.5" width="331.8" height="328.1" fill="#0a14e6"/>
<svg x="1641.5" y="1039.5" width="331.8" height="328.1" viewBox="0 0 300 300" preserveAspectRatio="none">
<g filter="url(#fe)">
<rect x="-60" y="-60" width="420" height="420" fill="#1f1f1f"/>
<g filter="url(#be)">
<rect x="-60" y="-60" width="420" height="420" fill="#1f1f1f"/>
<ellipse cx="130" cy="122" rx="95" ry="55" fill="#121212" transform="rotate(42 130 122)"/>
<ellipse cx="107" cy="93" rx="38" ry="24" fill="#0b0b0b" transform="rotate(35 107 93)"/>
<ellipse cx="189" cy="117" rx="17" ry="36" fill="#0b0b0b"/>
<ellipse cx="118" cy="183" rx="44" ry="15" fill="#0b0b0b"/>
<ellipse cx="246" cy="150" rx="16" ry="95" fill="#2a2a2a"/>
<ellipse cx="250" cy="83" rx="11" ry="11" fill="#3b3b3b"/>
<ellipse cx="257" cy="152" rx="10" ry="22" fill="#363636"/>
<ellipse cx="140" cy="242" rx="115" ry="14" fill="#2a2a2a"/>
<ellipse cx="144" cy="241" rx="14" ry="8" fill="#363636"/>
<ellipse cx="17" cy="236" rx="13" ry="30" fill="#2e2e2e"/>
<ellipse cx="31" cy="281" rx="15" ry="13" fill="#333333"/>
<ellipse cx="14" cy="183" rx="10" ry="20" fill="#2b2b2b"/>
<ellipse cx="45" cy="110" rx="26" ry="11" fill="#262626"/>
</g>
</g></svg>
<rect x="1641.5" y="1039.5" width="331.8" height="328.1" fill="none" stroke="#000" stroke-width="2.0"/>
<path d="M1751.5 1367.6v5M1751.5 1039.5v-5M1862.1 1367.6v5M1862.1 1039.5v-5M1972.7 1367.6v5M1972.7 1039.5v-5M1641.5 1093.6h-6M1973.3 1093.6h4M1641.5 1148.3h-6M1973.3 1148.3h4M1641.5 1203.0h-6M1973.3 1203.0h4M1641.5 1257.7h-6M1973.3 1257.7h4M1641.5 1312.4h-6M1973.3 1312.4h4M1641.5 1367.1h-6M1973.3 1367.1h4" stroke="#000" stroke-width="2" fill="none"/>
<text class="s" transform="translate(1628.10 1102.24) scale(0.9200 1)" font-size="25.6" text-anchor="end">50</text>
<text class="s" transform="translate(1628.10 1156.92) scale(0.9200 1)" font-size="25.6" text-anchor="end">100</text>
<text class="s" transform="translate(1628.10 1211.60) scale(0.9200 1)" font-size="25.6" text-anchor="end">150</text>
<text class="s" transform="translate(1628.10 1266.29) scale(0.9200 1)" font-size="25.6" text-anchor="end">200</text>
<text class="s" transform="translate(1628.10 1320.97) scale(0.9200 1)" font-size="25.6" text-anchor="end">250</text>
<text class="s" transform="translate(1628.10 1375.65) scale(0.9200 1)" font-size="25.6" text-anchor="end">300</text>
<text class="s" transform="translate(1750.90 1402.10) scale(0.9300 1)" font-size="25.6" text-anchor="middle">100</text>
<text class="s" transform="translate(1860.50 1402.10) scale(0.9300 1)" font-size="25.6" text-anchor="middle">200</text>
<text class="s" transform="translate(1970.30 1402.10) scale(0.9300 1)" font-size="25.6" text-anchor="middle">300</text>
<rect x="2002.0" y="1110.2" width="9.7" height="260.8" fill="url(#jet)" stroke="#101018" stroke-width="1.4"/>
<text class="s" transform="translate(2016.10 1156.80) scale(0.9300 1)" font-size="25.6" text-anchor="start">0.8</text>
<path d="M2008.5 1147.8h3.2M2002.0 1147.8h3.2" stroke="#000" stroke-width="1.5"/>
<text class="s" transform="translate(2016.10 1204.70) scale(0.9300 1)" font-size="25.6" text-anchor="start">0.6</text>
<path d="M2008.5 1195.7h3.2M2002.0 1195.7h3.2" stroke="#000" stroke-width="1.5"/>
<text class="s" transform="translate(2016.10 1254.40) scale(0.9300 1)" font-size="25.6" text-anchor="start">0.4</text>
<path d="M2008.5 1245.4h3.2M2002.0 1245.4h3.2" stroke="#000" stroke-width="1.5"/>
<text class="s" transform="translate(2016.10 1304.10) scale(0.9300 1)" font-size="25.6" text-anchor="start">0.2</text>
<path d="M2008.5 1295.1h3.2M2002.0 1295.1h3.2" stroke="#000" stroke-width="1.5"/>
<text class="s" transform="translate(2016.10 1352.50) scale(0.9300 1)" font-size="25.6" text-anchor="start">0</text>
<path d="M2008.5 1343.5h3.2M2002.0 1343.5h3.2" stroke="#000" stroke-width="1.5"/>
<text class="t" transform="translate(1990.70 1082.00) scale(0.8400 1)" font-size="34" text-anchor="start" font-weight="bold">rad</text>
<text class="s" transform="translate(1803.00 1444.00) scale(1.0800 1)" font-size="36.5" text-anchor="middle">(e)</text>
</g>
<g id="pf" class="pn">
<rect x="57.5" y="1508.2" width="330.6" height="330.8" fill="#9fe68c"/>
<svg x="57.5" y="1508.2" width="330.6" height="330.8" viewBox="0 0 300 300" preserveAspectRatio="none">
<g filter="url(#ff)">
<rect x="-60" y="-60" width="420" height="420" fill="#808080"/>
<g filter="url(#bf)">
<rect x="-60" y="-60" width="420" height="420" fill="#808080"/>
<ellipse cx="150" cy="12" rx="130" ry="12" fill="#878787"/>
<ellipse cx="270" cy="262" rx="34" ry="40" fill="#8b8b8b"/>
<ellipse cx="60" cy="262" rx="50" ry="26" fill="#878787"/>
<ellipse cx="22" cy="130" rx="12" ry="38" fill="#989898" transform="rotate(15 22 130)"/>
<ellipse cx="18" cy="215" rx="12" ry="35" fill="#8e8e8e" transform="rotate(-20 18 215)"/>
<ellipse cx="51" cy="170" rx="25" ry="25" fill="#959595"/>
<ellipse cx="183" cy="164" rx="23" ry="25" fill="#939393"/>
<ellipse cx="178" cy="39" rx="21" ry="18" fill="#939393"/>
<ellipse cx="180" cy="83" rx="10" ry="10" fill="#8e8e8e"/>
<ellipse cx="85" cy="60" rx="26" ry="28" fill="#6e6e6e"/>
<ellipse cx="112" cy="105" rx="48" ry="40" fill="#666666"/>
<ellipse cx="150" cy="132" rx="30" ry="30" fill="#707070"/>
<ellipse cx="111" cy="117" rx="16" ry="6" fill="#4f4f4f" transform="rotate(-20 111 117)"/>
<ellipse cx="134" cy="182" rx="32" ry="9" fill="#6e6e6e"/>
<ellipse cx="253" cy="142" rx="32" ry="78" fill="#737373"/>
<ellipse cx="147" cy="243" rx="80" ry="36" fill="#747474"/>
<ellipse cx="175" cy="296" rx="24" ry="8" fill="#696969"/>
</g>
<g filter="url(#sb)" opacity="1.0"><use href="#stk"/></g>
</g></svg>
<rect x="57.5" y="1508.2" width="330.6" height="330.8" fill="none" stroke="#000" stroke-width="2.0"/>
<path d="M167.1 1839.0v5M167.1 1508.2v-5M277.3 1839.0v5M277.3 1508.2v-5M387.5 1839.0v5M387.5 1508.2v-5M57.5 1562.8h-6M388.1 1562.8h4M57.5 1617.9h-6M388.1 1617.9h4M57.5 1673.0h-6M388.1 1673.0h4M57.5 1728.2h-6M388.1 1728.2h4M57.5 1783.3h-6M388.1 1783.3h4M57.5 1838.4h-6M388.1 1838.4h4" stroke="#000" stroke-width="2" fill="none"/>
<text class="s" transform="translate(44.10 1571.38) scale(0.9200 1)" font-size="25.6" text-anchor="end">50</text>
<text class="s" transform="translate(44.10 1626.52) scale(0.9200 1)" font-size="25.6" text-anchor="end">100</text>
<text class="s" transform="translate(44.10 1681.65) scale(0.9200 1)" font-size="25.6" text-anchor="end">150</text>
<text class="s" transform="translate(44.10 1736.78) scale(0.9200 1)" font-size="25.6" text-anchor="end">200</text>
<text class="s" transform="translate(44.10 1791.92) scale(0.9200 1)" font-size="25.6" text-anchor="end">250</text>
<text class="s" transform="translate(44.10 1847.05) scale(0.9200 1)" font-size="25.6" text-anchor="end">300</text>
<text class="s" transform="translate(166.10 1873.50) scale(0.9300 1)" font-size="25.6" text-anchor="middle">100</text>
<text class="s" transform="translate(276.00 1873.50) scale(0.9300 1)" font-size="25.6" text-anchor="middle">200</text>
<text class="s" transform="translate(385.80 1873.50) scale(0.9300 1)" font-size="25.6" text-anchor="middle">300</text>
<rect x="414.6" y="1588.4" width="10.4" height="251.1" fill="url(#jet)" stroke="#101018" stroke-width="1.4"/>
<text class="s" transform="translate(427.40 1634.60) scale(0.9300 1)" font-size="25.6" text-anchor="start">0.02</text>
<path d="M421.8 1625.6h3.2M414.6 1625.6h3.2" stroke="#000" stroke-width="1.5"/>
<text class="s" transform="translate(427.40 1679.00) scale(0.9300 1)" font-size="25.6" text-anchor="start">0.01</text>
<path d="M421.8 1670.0h3.2M414.6 1670.0h3.2" stroke="#000" stroke-width="1.5"/>
<text class="s" transform="translate(427.40 1721.40) scale(0.9300 1)" font-size="25.6" text-anchor="start">0</text>
<path d="M421.8 1712.4h3.2M414.6 1712.4h3.2" stroke="#000" stroke-width="1.5"/>
<text class="s" transform="translate(427.40 1765.30) scale(0.9300 1)" font-size="25.6" text-anchor="start">-0.01</text>
<path d="M421.8 1756.3h3.2M414.6 1756.3h3.2" stroke="#000" stroke-width="1.5"/>
<text class="s" transform="translate(427.40 1809.80) scale(0.9300 1)" font-size="25.6" text-anchor="start">-0.02</text>
<path d="M421.8 1800.8h3.2M414.6 1800.8h3.2" stroke="#000" stroke-width="1.5"/>
<text class="t" transform="translate(404.10 1552.30) scale(0.8400 1)" font-size="34" text-anchor="start" font-weight="bold">rad</text>
<text class="s" transform="translate(220.00 1916.00) scale(1.0800 1)" font-size="36.5" text-anchor="middle">(f)</text>
</g>
<g id="pg" class="pn">
<rect x="586.7" y="1505.2" width="333.1" height="330.0" fill="#9fe68c"/>
<svg x="586.7" y="1505.2" width="333.1" height="330.0" viewBox="0 0 300 300" preserveAspectRatio="none">
<g filter="url(#fg)">
<rect x="-60" y="-60" width="420" height="420" fill="#808080"/>
<g filter="url(#bg)">
<rect x="-60" y="-60" width="420" height="420" fill="#808080"/>
<ellipse cx="150" cy="12" rx="130" ry="12" fill="#878787"/>
<ellipse cx="270" cy="262" rx="34" ry="40" fill="#8a8a8a"/>
<ellipse cx="60" cy="262" rx="50" ry="26" fill="#878787"/>
<ellipse cx="24" cy="128" rx="12" ry="38" fill="#989898" transform="rotate(15 24 128)"/>
<ellipse cx="18" cy="215" rx="12" ry="35" fill="#8e8e8e" transform="rotate(-20 18 215)"/>
<ellipse cx="45" cy="172" rx="27" ry="27" fill="#959595"/>
<ellipse cx="183" cy="166" rx="23" ry="25" fill="#939393"/>
<ellipse cx="180" cy="38" rx="21" ry="18" fill="#939393"/>
<ellipse cx="180" cy="83" rx="10" ry="10" fill="#8c8c8c"/>
<ellipse cx="85" cy="60" rx="26" ry="28" fill="#6e6e6e"/>
<ellipse cx="110" cy="104" rx="48" ry="40" fill="#666666"/>
<ellipse cx="150" cy="132" rx="30" ry="30" fill="#707070"/>
<ellipse cx="110" cy="116" rx="16" ry="6" fill="#4f4f4f" transform="rotate(-20 110 116)"/>
<ellipse cx="134" cy="182" rx="32" ry="9" fill="#6e6e6e"/>
<ellipse cx="255" cy="142" rx="32" ry="78" fill="#737373"/>
<ellipse cx="147" cy="243" rx="80" ry="36" fill="#747474"/>
<ellipse cx="175" cy="296" rx="32" ry="8" fill="#696969"/>
</g>
<g filter="url(#sb)" opacity="1.0"><use href="#stk"/></g>
</g></svg>
<rect x="586.7" y="1505.2" width="333.1" height="330.0" fill="none" stroke="#000" stroke-width="2.0"/>
<path d="M697.2 1835.2v5M697.2 1505.2v-5M808.2 1835.2v5M808.2 1505.2v-5M919.2 1835.2v5M919.2 1505.2v-5M586.7 1559.7h-6M919.8 1559.7h4M586.7 1614.7h-6M919.8 1614.7h4M586.7 1669.7h-6M919.8 1669.7h4M586.7 1724.7h-6M919.8 1724.7h4M586.7 1779.7h-6M919.8 1779.7h4M586.7 1834.7h-6M919.8 1834.7h4" stroke="#000" stroke-width="2" fill="none"/>
<text class="s" transform="translate(573.30 1568.25) scale(0.9200 1)" font-size="25.6" text-anchor="end">50</text>
<text class="s" transform="translate(573.30 1623.25) scale(0.9200 1)" font-size="25.6" text-anchor="end">100</text>
<text class="s" transform="translate(573.30 1678.25) scale(0.9200 1)" font-size="25.6" text-anchor="end">150</text>
<text class="s" transform="translate(573.30 1733.25) scale(0.9200 1)" font-size="25.6" text-anchor="end">200</text>
<text class="s" transform="translate(573.30 1788.25) scale(0.9200 1)" font-size="25.6" text-anchor="end">250</text>
<text class="s" transform="translate(573.30 1843.25) scale(0.9200 1)" font-size="25.6" text-anchor="end">300</text>
<text class="s" transform="translate(697.30 1869.70) scale(0.9300 1)" font-size="25.6" text-anchor="middle">100</text>
<text class="s" transform="translate(807.00 1869.70) scale(0.9300 1)" font-size="25.6" text-anchor="middle">200</text>
<text class="s" transform="translate(916.80 1869.70) scale(0.9300 1)" font-size="25.6" text-anchor="middle">300</text>
<rect x="946.4" y="1583.7" width="10.4" height="252.4" fill="url(#jet)" stroke="#101018" stroke-width="1.4"/>
<text class="s" transform="translate(959.20 1633.30) scale(0.9300 1)" font-size="25.6" text-anchor="start">0.02</text>
<path d="M953.6 1624.3h3.2M946.4 1624.3h3.2" stroke="#000" stroke-width="1.5"/>
<text class="s" transform="translate(959.20 1676.90) scale(0.9300 1)" font-size="25.6" text-anchor="start">0.01</text>
<path d="M953.6 1667.9h3.2M946.4 1667.9h3.2" stroke="#000" stroke-width="1.5"/>
<text class="s" transform="translate(959.20 1718.80) scale(0.9300 1)" font-size="25.6" text-anchor="start">0</text>
<path d="M953.6 1709.8h3.2M946.4 1709.8h3.2" stroke="#000" stroke-width="1.5"/>
<text class="s" transform="translate(959.20 1762.70) scale(0.9300 1)" font-size="25.6" text-anchor="start">-0.01</text>
<path d="M953.6 1753.7h3.2M946.4 1753.7h3.2" stroke="#000" stroke-width="1.5"/>
<text class="s" transform="translate(959.20 1806.70) scale(0.9300 1)" font-size="25.6" text-anchor="start">-0.02</text>
<path d="M953.6 1797.7h3.2M946.4 1797.7h3.2" stroke="#000" stroke-width="1.5"/>
<text class="t" transform="translate(937.20 1547.00) scale(0.8400 1)" font-size="34" text-anchor="start" font-weight="bold">rad</text>
<text class="s" transform="translate(750.00 1907.00) scale(1.0800 1)" font-size="36.5" text-anchor="middle">(g)</text>
</g>
<g id="ph" class="pn">
<rect x="1119.7" y="1505.2" width="332.0" height="330.0" fill="#9aeb96"/>
<svg x="1119.7" y="1505.2" width="332.0" height="330.0" viewBox="0 0 300 300" preserveAspectRatio="none">
<g filter="url(#fh)">
<rect x="-60" y="-60" width="420" height="420" fill="#7e7e7e"/>
<g filter="url(#bh)">
<rect x="-60" y="-60" width="420" height="420" fill="#7e7e7e"/>
<ellipse cx="50" cy="170" rx="36" ry="36" fill="#8a8a8a"/>
<ellipse cx="190" cy="50" rx="32" ry="26" fill="#888888"/>
<ellipse cx="190" cy="168" rx="26" ry="26" fill="#878787"/>
<ellipse cx="110" cy="100" rx="42" ry="42" fill="#777777"/>
<ellipse cx="150" cy="200" rx="55" ry="10" fill="#787878"/>
<ellipse cx="262" cy="160" rx="28" ry="70" fill="#797979"/>
<ellipse cx="160" cy="250" rx="70" ry="22" fill="#797979"/>
</g>
<g filter="url(#sb)" opacity="0.5"><use href="#stk"/></g>
</g></svg>
<rect x="1119.7" y="1505.2" width="332.0" height="330.0" fill="none" stroke="#000" stroke-width="2.0"/>
<path d="M1229.8 1835.2v5M1229.8 1505.2v-5M1340.5 1835.2v5M1340.5 1505.2v-5M1451.1 1835.2v5M1451.1 1505.2v-5M1119.7 1559.7h-6M1451.7 1559.7h4M1119.7 1614.7h-6M1451.7 1614.7h4M1119.7 1669.7h-6M1451.7 1669.7h4M1119.7 1724.7h-6M1451.7 1724.7h4M1119.7 1779.7h-6M1451.7 1779.7h4M1119.7 1834.7h-6M1451.7 1834.7h4" stroke="#000" stroke-width="2" fill="none"/>
<text class="s" transform="translate(1106.30 1568.25) scale(0.9200 1)" font-size="25.6" text-anchor="end">50</text>
<text class="s" transform="translate(1106.30 1623.25) scale(0.9200 1)" font-size="25.6" text-anchor="end">100</text>
<text class="s" transform="translate(1106.30 1678.25) scale(0.9200 1)" font-size="25.6" text-anchor="end">150</text>
<text class="s" transform="translate(1106.30 1733.25) scale(0.9200 1)" font-size="25.6" text-anchor="end">200</text>
<text class="s" transform="translate(1106.30 1788.25) scale(0.9200 1)" font-size="25.6" text-anchor="end">250</text>
<text class="s" transform="translate(1106.30 1843.25) scale(0.9200 1)" font-size="25.6" text-anchor="end">300</text>
<text class="s" transform="translate(1230.40 1869.70) scale(0.9300 1)" font-size="25.6" text-anchor="middle">100</text>
<text class="s" transform="translate(1339.50 1869.70) scale(0.9300 1)" font-size="25.6" text-anchor="middle">200</text>
<text class="s" transform="translate(1448.60 1869.70) scale(0.9300 1)" font-size="25.6" text-anchor="middle">300</text>
<rect x="1478.1" y="1581.1" width="9.7" height="253.7" fill="url(#jet)" stroke="#101018" stroke-width="1.4"/>
<text class="s" transform="translate(1490.20 1600.00) scale(0.9300 1)" font-size="25.6" text-anchor="start">0.04</text>
<path d="M1484.6 1591.0h3.2M1478.1 1591.0h3.2" stroke="#000" stroke-width="1.5"/>
<text class="s" transform="translate(1490.20 1656.80) scale(0.9300 1)" font-size="25.6" text-anchor="start">0.02</text>
<path d="M1484.6 1647.8h3.2M1478.1 1647.8h3.2" stroke="#000" stroke-width="1.5"/>
<text class="s" transform="translate(1490.20 1715.10) scale(0.9300 1)" font-size="25.6" text-anchor="start">0</text>
<path d="M1484.6 1706.1h3.2M1478.1 1706.1h3.2" stroke="#000" stroke-width="1.5"/>
<text class="s" transform="translate(1490.20 1773.20) scale(0.9300 1)" font-size="25.6" text-anchor="start">-0.02</text>
<path d="M1484.6 1764.2h3.2M1478.1 1764.2h3.2" stroke="#000" stroke-width="1.5"/>
<text class="s" transform="translate(1490.20 1832.00) scale(0.9300 1)" font-size="25.6" text-anchor="start">-0.04</text>
<path d="M1484.6 1823.0h3.2M1478.1 1823.0h3.2" stroke="#000" stroke-width="1.5"/>
<text class="t" transform="translate(1469.00 1549.00) scale(0.8400 1)" font-size="34" text-anchor="start" font-weight="bold">rad</text>
<text class="s" transform="translate(1282.00 1907.00) scale(1.0800 1)" font-size="36.5" text-anchor="middle">(h)</text>
</g>
<g id="pi" class="pn">
<rect x="1642.9" y="1505.2" width="331.9" height="330.0" fill="#9aeb96"/>
<svg x="1642.9" y="1505.2" width="331.9" height="330.0" viewBox="0 0 300 300" preserveAspectRatio="none">
<g filter="url(#fi)">
<rect x="-60" y="-60" width="420" height="420" fill="#808080"/>
<g filter="url(#bi)">
<rect x="-60" y="-60" width="420" height="420" fill="#808080"/>
<ellipse cx="50" cy="170" rx="36" ry="36" fill="#8b8b8b"/>
<ellipse cx="190" cy="50" rx="32" ry="26" fill="#888888"/>
<ellipse cx="190" cy="150" rx="30" ry="36" fill="#888888"/>
<ellipse cx="110" cy="100" rx="42" ry="42" fill="#787878"/>
<ellipse cx="150" cy="200" rx="55" ry="10" fill="#797979"/>
<ellipse cx="262" cy="160" rx="28" ry="70" fill="#7a7a7a"/>
<ellipse cx="160" cy="250" rx="70" ry="22" fill="#7a7a7a"/>
</g>
<g filter="url(#sb)" opacity="0.5"><use href="#stk"/></g>
</g></svg>
<rect x="1642.9" y="1505.2" width="331.9" height="330.0" fill="none" stroke="#000" stroke-width="2.0"/>
<path d="M1753.0 1835.2v5M1753.0 1505.2v-5M1863.6 1835.2v5M1863.6 1505.2v-5M1974.2 1835.2v5M1974.2 1505.2v-5M1642.9 1559.7h-6M1974.8 1559.7h4M1642.9 1614.7h-6M1974.8 1614.7h4M1642.9 1669.7h-6M1974.8 1669.7h4M1642.9 1724.7h-6M1974.8 1724.7h4M1642.9 1779.7h-6M1974.8 1779.7h4M1642.9 1834.7h-6M1974.8 1834.7h4" stroke="#000" stroke-width="2" fill="none"/>
<text class="s" transform="translate(1629.50 1568.25) scale(0.9200 1)" font-size="25.6" text-anchor="end">50</text>
<text class="s" transform="translate(1629.50 1623.25) scale(0.9200 1)" font-size="25.6" text-anchor="end">100</text>
<text class="s" transform="translate(1629.50 1678.25) scale(0.9200 1)" font-size="25.6" text-anchor="end">150</text>
<text class="s" transform="translate(1629.50 1733.25) scale(0.9200 1)" font-size="25.6" text-anchor="end">200</text>
<text class="s" transform="translate(1629.50 1788.25) scale(0.9200 1)" font-size="25.6" text-anchor="end">250</text>
<text class="s" transform="translate(1629.50 1843.25) scale(0.9200 1)" font-size="25.6" text-anchor="end">300</text>
<text class="s" transform="translate(1752.70 1869.70) scale(0.9300 1)" font-size="25.6" text-anchor="middle">100</text>
<text class="s" transform="translate(1862.60 1869.70) scale(0.9300 1)" font-size="25.6" text-anchor="middle">200</text>
<text class="s" transform="translate(1971.90 1869.70) scale(0.9300 1)" font-size="25.6" text-anchor="middle">300</text>
<rect x="2000.4" y="1581.1" width="10.0" height="255.0" fill="url(#jet)" stroke="#101018" stroke-width="1.4"/>
<text class="s" transform="translate(2014.30 1598.00) scale(0.9300 1)" font-size="25.6" text-anchor="start">0.04</text>
<path d="M2007.2 1589.0h3.2M2000.4 1589.0h3.2" stroke="#000" stroke-width="1.5"/>
<text class="s" transform="translate(2014.30 1656.30) scale(0.9300 1)" font-size="25.6" text-anchor="start">0.02</text>
<path d="M2007.2 1647.3h3.2M2000.4 1647.3h3.2" stroke="#000" stroke-width="1.5"/>
<text class="s" transform="translate(2014.30 1713.60) scale(0.9300 1)" font-size="25.6" text-anchor="start">0</text>
<path d="M2007.2 1704.6h3.2M2000.4 1704.6h3.2" stroke="#000" stroke-width="1.5"/>
<text class="s" transform="translate(2014.30 1771.90) scale(0.9300 1)" font-size="25.6" text-anchor="start">-0.02</text>
<path d="M2007.2 1762.9h3.2M2000.4 1762.9h3.2" stroke="#000" stroke-width="1.5"/>
<text class="s" transform="translate(2014.30 1830.70) scale(0.9300 1)" font-size="25.6" text-anchor="start">-0.04</text>
<path d="M2007.2 1821.7h3.2M2000.4 1821.7h3.2" stroke="#000" stroke-width="1.5"/>
<text class="t" transform="translate(1990.70 1551.00) scale(0.8400 1)" font-size="34" text-anchor="start" font-weight="bold">rad</text>
<text class="s" transform="translate(1806.00 1907.00) scale(1.0800 1)" font-size="36.5" text-anchor="middle">(i)</text>
</g>
</svg></body></html>
